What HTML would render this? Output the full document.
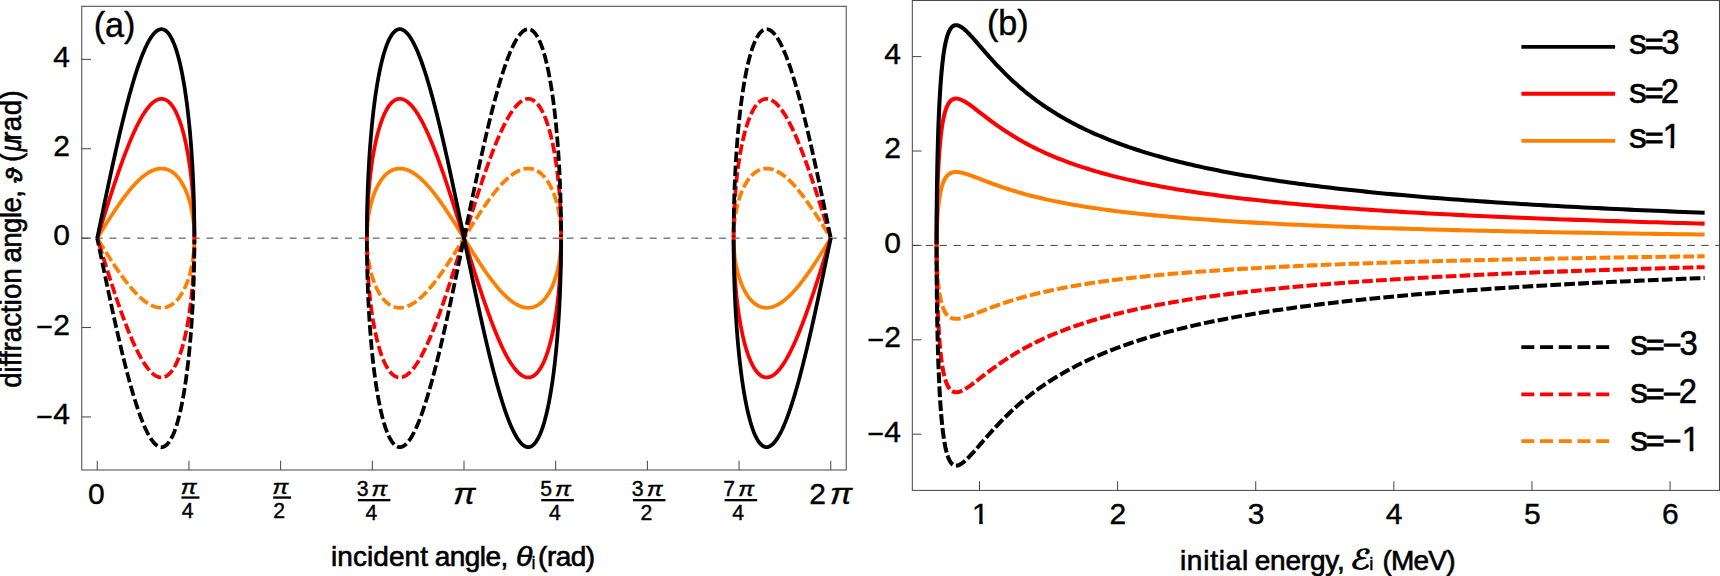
<!DOCTYPE html>
<html lang="en"><head><meta charset="utf-8"><title>Diffraction angle plots</title>
<style>html,body{margin:0;padding:0;background:#fff;}body{width:1720px;height:576px;overflow:hidden;}svg{display:block;}text{font-family:"Liberation Sans",sans-serif;fill:#000;stroke:#000;stroke-width:0.4px;}.t{font-size:30.0px;}.f{font-size:21.2px;}.x{font-size:28.0px;stroke-width:0.65px;}.yl text{stroke-width:0.6px;}.L{font-size:34.2px;}.G{font-size:35.7px;}.it{font-style:italic;}.c{fill:none;stroke-width:3.75;stroke-linejoin:round;stroke-linecap:butt;}.cb{stroke-width:4.05;}.fr{fill:none;stroke:#404040;stroke-width:0.98;}</style></head><body>
<svg width="1720" height="576" viewBox="0 0 1720 576">
<rect x="0" y="0" width="1720" height="576" fill="#fff"/>
<defs><clipPath id="c1_0"><rect x="970.10" y="493.50" width="30.00" height="27.45"/><rect x="979.28" y="520.50" width="3.37" height="4.00"/></clipPath><clipPath id="c1_1"><rect x="1660.63" y="112.71" width="35.70" height="32.34"/><rect x="1670.53" y="144.52" width="3.62" height="4.53"/></clipPath><clipPath id="c1_2"><rect x="1679.83" y="415.71" width="35.70" height="32.34"/><rect x="1689.73" y="447.52" width="3.62" height="4.53"/></clipPath></defs>
<g id="panel-a">
<rect class="fr" x="81.8" y="6.3" width="764.4000000000001" height="463.7"/>
<path class="fr" d="M97.25,470.00 V460.80 M188.94,470.00 V460.80 M280.62,470.00 V460.80 M372.31,470.00 V460.80 M464.00,470.00 V460.80 M555.69,470.00 V460.80 M647.38,470.00 V460.80 M739.06,470.00 V460.80 M830.75,470.00 V460.80 M81.80,416.95 H91.00 M81.80,327.55 H91.00 M81.80,238.15 H91.00 M81.80,148.75 H91.00 M81.80,59.35 H91.00"/>
<line x1="81.8" y1="238.15" x2="846.2" y2="238.15" stroke="#404040" stroke-width="1.0" stroke-dasharray="7.0 6.85" stroke-dashoffset="0"/>
<path class="c" stroke="#ff8000" d="M97.25,238.15 L97.27,238.12 L97.33,238.02 L97.43,237.86 L97.57,237.64 L97.74,237.35 L97.96,237.00 L98.22,236.59 L98.51,236.11 L98.85,235.58 L99.22,234.98 L99.63,234.31 L100.07,233.59 L100.56,232.81 L101.08,231.97 L101.64,231.08 L102.23,230.12 L102.86,229.11 L103.53,228.05 L104.23,226.93 L104.96,225.76 L105.73,224.55 L106.52,223.28 L107.36,221.97 L108.22,220.61 L109.11,219.22 L110.03,217.78 L110.99,216.31 L111.97,214.80 L112.98,213.26 L114.01,211.70 L115.07,210.10 L116.16,208.49 L117.27,206.86 L118.40,205.22 L119.56,203.56 L120.74,201.90 L121.93,200.23 L123.15,198.56 L124.39,196.90 L125.64,195.25 L126.91,193.61 L128.19,191.98 L129.49,190.38 L130.81,188.81 L132.13,187.26 L133.47,185.75 L134.81,184.28 L136.17,182.85 L137.53,181.47 L138.90,180.14 L140.28,178.86 L141.66,177.65 L143.04,176.49 L144.43,175.40 L145.81,174.38 L147.20,173.43 L148.59,172.56 L149.97,171.77 L151.35,171.06 L152.73,170.43 L154.10,169.88 L155.46,169.43 L156.81,169.06 L158.16,168.78 L159.50,168.60 L160.82,168.50 L162.13,168.50 L163.43,168.60 L164.72,168.79 L165.99,169.07 L167.24,169.45 L168.48,169.92 L169.69,170.48 L170.89,171.14 L172.07,171.89 L173.23,172.72 L174.36,173.65 L175.47,174.66 L176.56,175.75 L177.62,176.93 L178.65,178.19 L179.66,179.53 L180.64,180.94 L181.59,182.43 L182.52,183.99 L183.41,185.62 L184.27,187.31 L185.10,189.07 L185.90,190.89 L186.67,192.76 L187.40,194.70 L188.10,196.68 L188.77,198.71 L189.40,200.80 L189.99,202.92 L190.55,205.09 L191.07,207.29 L191.55,209.53 L192.00,211.80 L192.41,214.10 L192.78,216.43 L193.12,218.78 L193.41,221.16 L193.67,223.55 L193.88,225.96 L194.06,228.38 L194.20,230.81 L194.30,233.26 L194.36,235.70 L194.38,238.15 M366.87,238.15 L366.88,236.42 L366.91,234.69 L366.96,232.96 L367.03,231.23 L367.12,229.51 L367.23,227.79 L367.36,226.08 L367.51,224.37 L367.67,222.67 L367.86,220.97 L368.07,219.29 L368.29,217.61 L368.54,215.95 L368.81,214.30 L369.09,212.66 L369.40,211.03 L369.72,209.41 L370.06,207.82 L370.43,206.23 L370.81,204.67 L371.21,203.12 L371.63,201.59 L372.06,200.09 L372.52,198.60 L373.00,197.14 L373.49,195.70 L374.00,194.28 L374.53,192.89 L375.08,191.52 L375.65,190.19 L376.23,188.88 L376.84,187.60 L377.46,186.35 L378.10,185.14 L378.75,183.95 L379.43,182.81 L380.12,181.70 L380.82,180.62 L381.55,179.58 L382.29,178.58 L383.05,177.63 L383.82,176.71 L384.61,175.84 L385.42,175.01 L386.25,174.22 L387.08,173.48 L387.94,172.79 L388.81,172.14 L389.69,171.55 L390.60,171.00 L391.51,170.51 L392.44,170.06 L393.39,169.67 L394.35,169.34 L395.32,169.06 L396.31,168.83 L397.31,168.66 L398.32,168.55 L399.35,168.50 L400.39,168.50 L401.45,168.57 L402.52,168.69 L403.60,168.88 L404.69,169.12 L405.79,169.43 L406.91,169.79 L408.04,170.22 L409.18,170.71 L410.33,171.27 L411.49,171.88 L412.66,172.56 L413.84,173.30 L415.04,174.10 L416.24,174.96 L417.45,175.89 L418.67,176.87 L419.90,177.92 L421.15,179.02 L422.39,180.18 L423.65,181.41 L424.92,182.68 L426.19,184.02 L427.47,185.41 L428.76,186.86 L430.06,188.35 L431.36,189.90 L432.67,191.51 L433.99,193.16 L435.31,194.85 L436.64,196.60 L437.97,198.39 L439.31,200.22 L440.65,202.09 L442.00,204.00 L443.35,205.95 L444.71,207.93 L446.07,209.95 L447.44,212.00 L448.81,214.07 L450.18,216.17 L451.55,218.30 L452.93,220.45 L454.31,222.62 L455.69,224.81 L457.07,227.01 L458.46,229.22 L459.84,231.44 L461.23,233.68 L462.61,235.91 L464.00,238.15 L465.39,240.39 L466.77,242.62 L468.16,244.86 L469.54,247.08 L470.93,249.29 L472.31,251.49 L473.69,253.68 L475.07,255.85 L476.45,258.00 L477.82,260.13 L479.19,262.23 L480.56,264.30 L481.93,266.35 L483.29,268.37 L484.65,270.35 L486.00,272.30 L487.35,274.21 L488.69,276.08 L490.03,277.91 L491.36,279.70 L492.69,281.45 L494.01,283.14 L495.33,284.79 L496.64,286.40 L497.94,287.95 L499.24,289.44 L500.53,290.89 L501.81,292.28 L503.08,293.62 L504.35,294.89 L505.61,296.12 L506.85,297.28 L508.10,298.38 L509.33,299.43 L510.55,300.41 L511.76,301.34 L512.96,302.20 L514.16,303.00 L515.34,303.74 L516.51,304.42 L517.67,305.03 L518.82,305.59 L519.96,306.08 L521.09,306.51 L522.21,306.87 L523.31,307.18 L524.40,307.42 L525.48,307.61 L526.55,307.73 L527.61,307.80 L528.65,307.80 L529.68,307.75 L530.69,307.64 L531.69,307.47 L532.68,307.24 L533.65,306.96 L534.61,306.63 L535.56,306.24 L536.49,305.79 L537.40,305.30 L538.31,304.75 L539.19,304.16 L540.06,303.51 L540.92,302.82 L541.75,302.08 L542.58,301.29 L543.39,300.46 L544.18,299.59 L544.95,298.67 L545.71,297.72 L546.45,296.72 L547.18,295.68 L547.88,294.60 L548.57,293.49 L549.25,292.35 L549.90,291.16 L550.54,289.95 L551.16,288.70 L551.77,287.42 L552.35,286.11 L552.92,284.78 L553.47,283.41 L554.00,282.02 L554.51,280.60 L555.00,279.16 L555.48,277.70 L555.94,276.21 L556.37,274.71 L556.79,273.18 L557.19,271.63 L557.57,270.07 L557.94,268.48 L558.28,266.89 L558.60,265.27 L558.91,263.64 L559.19,262.00 L559.46,260.35 L559.71,258.69 L559.93,257.01 L560.14,255.33 L560.33,253.63 L560.49,251.93 L560.64,250.22 L560.77,248.51 L560.88,246.79 L560.97,245.07 L561.04,243.34 L561.09,241.61 L561.12,239.88 L561.13,238.15 M733.62,238.15 L733.64,240.60 L733.70,243.04 L733.80,245.49 L733.94,247.92 L734.12,250.34 L734.33,252.75 L734.59,255.14 L734.88,257.52 L735.22,259.87 L735.59,262.20 L736.00,264.50 L736.45,266.77 L736.93,269.01 L737.45,271.21 L738.01,273.38 L738.60,275.50 L739.23,277.59 L739.90,279.62 L740.60,281.60 L741.33,283.54 L742.10,285.41 L742.90,287.23 L743.73,288.99 L744.59,290.68 L745.48,292.31 L746.41,293.87 L747.36,295.36 L748.34,296.77 L749.35,298.11 L750.38,299.37 L751.44,300.55 L752.53,301.64 L753.64,302.65 L754.77,303.58 L755.93,304.41 L757.11,305.16 L758.31,305.82 L759.52,306.38 L760.76,306.85 L762.01,307.23 L763.28,307.51 L764.57,307.70 L765.87,307.80 L767.18,307.80 L768.50,307.70 L769.84,307.52 L771.19,307.24 L772.54,306.87 L773.90,306.42 L775.27,305.87 L776.65,305.24 L778.03,304.53 L779.41,303.74 L780.80,302.87 L782.19,301.92 L783.57,300.90 L784.96,299.81 L786.34,298.65 L787.72,297.44 L789.10,296.16 L790.47,294.83 L791.83,293.45 L793.19,292.02 L794.53,290.55 L795.87,289.04 L797.19,287.49 L798.51,285.92 L799.81,284.32 L801.09,282.69 L802.36,281.05 L803.61,279.40 L804.85,277.74 L806.07,276.07 L807.26,274.40 L808.44,272.74 L809.60,271.08 L810.73,269.44 L811.84,267.81 L812.93,266.20 L813.99,264.60 L815.02,263.04 L816.03,261.50 L817.01,259.99 L817.97,258.52 L818.89,257.08 L819.78,255.69 L820.64,254.33 L821.48,253.02 L822.27,251.75 L823.04,250.54 L823.77,249.37 L824.47,248.25 L825.14,247.19 L825.77,246.18 L826.36,245.22 L826.92,244.33 L827.44,243.49 L827.93,242.71 L828.37,241.99 L828.78,241.32 L829.15,240.72 L829.49,240.19 L829.78,239.71 L830.04,239.30 L830.26,238.95 L830.43,238.66 L830.57,238.44 L830.67,238.28 L830.73,238.18 L830.75,238.15"/>
<path class="c" stroke="#ff8000" stroke-dasharray="10.5 3.55" stroke-dashoffset="11.7" d="M97.25,238.15 L97.27,238.18 L97.33,238.28 L97.43,238.44 L97.57,238.66 L97.74,238.95 L97.96,239.30 L98.22,239.71 L98.51,240.19 L98.85,240.72 L99.22,241.32 L99.63,241.99 L100.07,242.71 L100.56,243.49 L101.08,244.33 L101.64,245.22 L102.23,246.18 L102.86,247.19 L103.53,248.25 L104.23,249.37 L104.96,250.54 L105.73,251.75 L106.52,253.02 L107.36,254.33 L108.22,255.69 L109.11,257.08 L110.03,258.52 L110.99,259.99 L111.97,261.50 L112.98,263.04 L114.01,264.60 L115.07,266.20 L116.16,267.81 L117.27,269.44 L118.40,271.08 L119.56,272.74 L120.74,274.40 L121.93,276.07 L123.15,277.74 L124.39,279.40 L125.64,281.05 L126.91,282.69 L128.19,284.32 L129.49,285.92 L130.81,287.49 L132.13,289.04 L133.47,290.55 L134.81,292.02 L136.17,293.45 L137.53,294.83 L138.90,296.16 L140.28,297.44 L141.66,298.65 L143.04,299.81 L144.43,300.90 L145.81,301.92 L147.20,302.87 L148.59,303.74 L149.97,304.53 L151.35,305.24 L152.73,305.87 L154.10,306.42 L155.46,306.87 L156.81,307.24 L158.16,307.52 L159.50,307.70 L160.82,307.80 L162.13,307.80 L163.43,307.70 L164.72,307.51 L165.99,307.23 L167.24,306.85 L168.48,306.38 L169.69,305.82 L170.89,305.16 L172.07,304.41 L173.23,303.58 L174.36,302.65 L175.47,301.64 L176.56,300.55 L177.62,299.37 L178.65,298.11 L179.66,296.77 L180.64,295.36 L181.59,293.87 L182.52,292.31 L183.41,290.68 L184.27,288.99 L185.10,287.23 L185.90,285.41 L186.67,283.54 L187.40,281.60 L188.10,279.62 L188.77,277.59 L189.40,275.50 L189.99,273.38 L190.55,271.21 L191.07,269.01 L191.55,266.77 L192.00,264.50 L192.41,262.20 L192.78,259.87 L193.12,257.52 L193.41,255.14 L193.67,252.75 L193.88,250.34 L194.06,247.92 L194.20,245.49 L194.30,243.04 L194.36,240.60 L194.38,238.15"/>
<path class="c" stroke="#ff8000" stroke-dasharray="10.5 3.55" stroke-dashoffset="7.15" d="M366.87,238.15 L366.88,239.88 L366.91,241.61 L366.96,243.34 L367.03,245.07 L367.12,246.79 L367.23,248.51 L367.36,250.22 L367.51,251.93 L367.67,253.63 L367.86,255.33 L368.07,257.01 L368.29,258.69 L368.54,260.35 L368.81,262.00 L369.09,263.64 L369.40,265.27 L369.72,266.89 L370.06,268.48 L370.43,270.07 L370.81,271.63 L371.21,273.18 L371.63,274.71 L372.06,276.21 L372.52,277.70 L373.00,279.16 L373.49,280.60 L374.00,282.02 L374.53,283.41 L375.08,284.78 L375.65,286.11 L376.23,287.42 L376.84,288.70 L377.46,289.95 L378.10,291.16 L378.75,292.35 L379.43,293.49 L380.12,294.60 L380.82,295.68 L381.55,296.72 L382.29,297.72 L383.05,298.67 L383.82,299.59 L384.61,300.46 L385.42,301.29 L386.25,302.08 L387.08,302.82 L387.94,303.51 L388.81,304.16 L389.69,304.75 L390.60,305.30 L391.51,305.79 L392.44,306.24 L393.39,306.63 L394.35,306.96 L395.32,307.24 L396.31,307.47 L397.31,307.64 L398.32,307.75 L399.35,307.80 L400.39,307.80 L401.45,307.73 L402.52,307.61 L403.60,307.42 L404.69,307.18 L405.79,306.87 L406.91,306.51 L408.04,306.08 L409.18,305.59 L410.33,305.03 L411.49,304.42 L412.66,303.74 L413.84,303.00 L415.04,302.20 L416.24,301.34 L417.45,300.41 L418.67,299.43 L419.90,298.38 L421.15,297.28 L422.39,296.12 L423.65,294.89 L424.92,293.62 L426.19,292.28 L427.47,290.89 L428.76,289.44 L430.06,287.95 L431.36,286.40 L432.67,284.79 L433.99,283.14 L435.31,281.45 L436.64,279.70 L437.97,277.91 L439.31,276.08 L440.65,274.21 L442.00,272.30 L443.35,270.35 L444.71,268.37 L446.07,266.35 L447.44,264.30 L448.81,262.23 L450.18,260.13 L451.55,258.00 L452.93,255.85 L454.31,253.68 L455.69,251.49 L457.07,249.29 L458.46,247.08 L459.84,244.86 L461.23,242.62 L462.61,240.39 L464.00,238.15 L465.39,235.91 L466.77,233.68 L468.16,231.44 L469.54,229.22 L470.93,227.01 L472.31,224.81 L473.69,222.62 L475.07,220.45 L476.45,218.30 L477.82,216.17 L479.19,214.07 L480.56,212.00 L481.93,209.95 L483.29,207.93 L484.65,205.95 L486.00,204.00 L487.35,202.09 L488.69,200.22 L490.03,198.39 L491.36,196.60 L492.69,194.85 L494.01,193.16 L495.33,191.51 L496.64,189.90 L497.94,188.35 L499.24,186.86 L500.53,185.41 L501.81,184.02 L503.08,182.68 L504.35,181.41 L505.61,180.18 L506.85,179.02 L508.10,177.92 L509.33,176.87 L510.55,175.89 L511.76,174.96 L512.96,174.10 L514.16,173.30 L515.34,172.56 L516.51,171.88 L517.67,171.27 L518.82,170.71 L519.96,170.22 L521.09,169.79 L522.21,169.43 L523.31,169.12 L524.40,168.88 L525.48,168.69 L526.55,168.57 L527.61,168.50 L528.65,168.50 L529.68,168.55 L530.69,168.66 L531.69,168.83 L532.68,169.06 L533.65,169.34 L534.61,169.67 L535.56,170.06 L536.49,170.51 L537.40,171.00 L538.31,171.55 L539.19,172.14 L540.06,172.79 L540.92,173.48 L541.75,174.22 L542.58,175.01 L543.39,175.84 L544.18,176.71 L544.95,177.63 L545.71,178.58 L546.45,179.58 L547.18,180.62 L547.88,181.70 L548.57,182.81 L549.25,183.95 L549.90,185.14 L550.54,186.35 L551.16,187.60 L551.77,188.88 L552.35,190.19 L552.92,191.52 L553.47,192.89 L554.00,194.28 L554.51,195.70 L555.00,197.14 L555.48,198.60 L555.94,200.09 L556.37,201.59 L556.79,203.12 L557.19,204.67 L557.57,206.23 L557.94,207.82 L558.28,209.41 L558.60,211.03 L558.91,212.66 L559.19,214.30 L559.46,215.95 L559.71,217.61 L559.93,219.29 L560.14,220.97 L560.33,222.67 L560.49,224.37 L560.64,226.08 L560.77,227.79 L560.88,229.51 L560.97,231.23 L561.04,232.96 L561.09,234.69 L561.12,236.42 L561.13,238.15"/>
<path class="c" stroke="#ff8000" stroke-dasharray="10.5 3.55" stroke-dashoffset="4.1" d="M733.62,238.15 L733.64,235.70 L733.70,233.26 L733.80,230.81 L733.94,228.38 L734.12,225.96 L734.33,223.55 L734.59,221.16 L734.88,218.78 L735.22,216.43 L735.59,214.10 L736.00,211.80 L736.45,209.53 L736.93,207.29 L737.45,205.09 L738.01,202.92 L738.60,200.80 L739.23,198.71 L739.90,196.68 L740.60,194.70 L741.33,192.76 L742.10,190.89 L742.90,189.07 L743.73,187.31 L744.59,185.62 L745.48,183.99 L746.41,182.43 L747.36,180.94 L748.34,179.53 L749.35,178.19 L750.38,176.93 L751.44,175.75 L752.53,174.66 L753.64,173.65 L754.77,172.72 L755.93,171.89 L757.11,171.14 L758.31,170.48 L759.52,169.92 L760.76,169.45 L762.01,169.07 L763.28,168.79 L764.57,168.60 L765.87,168.50 L767.18,168.50 L768.50,168.60 L769.84,168.78 L771.19,169.06 L772.54,169.43 L773.90,169.88 L775.27,170.43 L776.65,171.06 L778.03,171.77 L779.41,172.56 L780.80,173.43 L782.19,174.38 L783.57,175.40 L784.96,176.49 L786.34,177.65 L787.72,178.86 L789.10,180.14 L790.47,181.47 L791.83,182.85 L793.19,184.28 L794.53,185.75 L795.87,187.26 L797.19,188.81 L798.51,190.38 L799.81,191.98 L801.09,193.61 L802.36,195.25 L803.61,196.90 L804.85,198.56 L806.07,200.23 L807.26,201.90 L808.44,203.56 L809.60,205.22 L810.73,206.86 L811.84,208.49 L812.93,210.10 L813.99,211.70 L815.02,213.26 L816.03,214.80 L817.01,216.31 L817.97,217.78 L818.89,219.22 L819.78,220.61 L820.64,221.97 L821.48,223.28 L822.27,224.55 L823.04,225.76 L823.77,226.93 L824.47,228.05 L825.14,229.11 L825.77,230.12 L826.36,231.08 L826.92,231.97 L827.44,232.81 L827.93,233.59 L828.37,234.31 L828.78,234.98 L829.15,235.58 L829.49,236.11 L829.78,236.59 L830.04,237.00 L830.26,237.35 L830.43,237.64 L830.57,237.86 L830.67,238.02 L830.73,238.12 L830.75,238.15"/>
<path class="c" stroke="#ff0000" d="M97.25,238.15 L97.27,238.09 L97.33,237.89 L97.43,237.57 L97.57,237.13 L97.74,236.55 L97.96,235.85 L98.22,235.03 L98.51,234.08 L98.85,233.00 L99.22,231.80 L99.63,230.48 L100.07,229.04 L100.56,227.48 L101.08,225.80 L101.64,224.00 L102.23,222.10 L102.86,220.08 L103.53,217.95 L104.23,215.71 L104.96,213.38 L105.73,210.94 L106.52,208.41 L107.36,205.79 L108.22,203.08 L109.11,200.28 L110.03,197.41 L110.99,194.46 L111.97,191.45 L112.98,188.37 L114.01,185.24 L115.07,182.06 L116.16,178.83 L117.27,175.57 L118.40,172.28 L119.56,168.97 L120.74,165.64 L121.93,162.31 L123.15,158.97 L124.39,155.65 L125.64,152.34 L126.91,149.06 L128.19,145.82 L129.49,142.62 L130.81,139.47 L132.13,136.38 L133.47,133.36 L134.81,130.41 L136.17,127.55 L137.53,124.79 L138.90,122.13 L140.28,119.58 L141.66,117.14 L143.04,114.83 L144.43,112.65 L145.81,110.61 L147.20,108.72 L148.59,106.97 L149.97,105.39 L151.35,103.96 L152.73,102.70 L154.10,101.61 L155.46,100.70 L156.81,99.97 L158.16,99.41 L159.50,99.04 L160.82,98.86 L162.13,98.86 L163.43,99.05 L164.72,99.43 L165.99,99.99 L167.24,100.75 L168.48,101.69 L169.69,102.82 L170.89,104.13 L172.07,105.62 L173.23,107.29 L174.36,109.14 L175.47,111.16 L176.56,113.35 L177.62,115.71 L178.65,118.23 L179.66,120.90 L180.64,123.73 L181.59,126.71 L182.52,129.83 L183.41,133.08 L184.27,136.47 L185.10,139.99 L185.90,143.63 L186.67,147.38 L187.40,151.24 L188.10,155.21 L188.77,159.28 L189.40,163.44 L189.99,167.69 L190.55,172.02 L191.07,176.43 L191.55,180.91 L192.00,185.45 L192.41,190.05 L192.78,194.71 L193.12,199.42 L193.41,204.16 L193.67,208.95 L193.88,213.77 L194.06,218.61 L194.20,223.48 L194.30,228.36 L194.36,233.25 L194.38,238.15 M366.87,238.15 L366.88,234.69 L366.91,231.22 L366.96,227.77 L367.03,224.31 L367.12,220.87 L367.23,217.43 L367.36,214.00 L367.51,210.59 L367.67,207.18 L367.86,203.80 L368.07,200.43 L368.29,197.08 L368.54,193.75 L368.81,190.44 L369.09,187.16 L369.40,183.91 L369.72,180.68 L370.06,177.48 L370.43,174.32 L370.81,171.19 L371.21,168.09 L371.63,165.04 L372.06,162.02 L372.52,159.05 L373.00,156.12 L373.49,153.24 L374.00,150.41 L374.53,147.62 L375.08,144.90 L375.65,142.22 L376.23,139.60 L376.84,137.05 L377.46,134.55 L378.10,132.12 L378.75,129.76 L379.43,127.46 L380.12,125.24 L380.82,123.09 L381.55,121.02 L382.29,119.02 L383.05,117.10 L383.82,115.27 L384.61,113.52 L385.42,111.86 L386.25,110.29 L387.08,108.81 L387.94,107.42 L388.81,106.13 L389.69,104.94 L390.60,103.85 L391.51,102.86 L392.44,101.98 L393.39,101.20 L394.35,100.53 L395.32,99.96 L396.31,99.51 L397.31,99.18 L398.32,98.95 L399.35,98.85 L400.39,98.86 L401.45,98.98 L402.52,99.23 L403.60,99.60 L404.69,100.09 L405.79,100.70 L406.91,101.44 L408.04,102.30 L409.18,103.28 L410.33,104.39 L411.49,105.62 L412.66,106.97 L413.84,108.45 L415.04,110.05 L416.24,111.78 L417.45,113.62 L418.67,115.59 L419.90,117.68 L421.15,119.89 L422.39,122.22 L423.65,124.66 L424.92,127.22 L426.19,129.89 L427.47,132.67 L428.76,135.56 L430.06,138.56 L431.36,141.66 L432.67,144.86 L433.99,148.16 L435.31,151.56 L436.64,155.04 L437.97,158.62 L439.31,162.28 L440.65,166.03 L442.00,169.85 L443.35,173.75 L444.71,177.71 L446.07,181.75 L447.44,185.84 L448.81,189.99 L450.18,194.20 L451.55,198.45 L452.93,202.75 L454.31,207.09 L455.69,211.46 L457.07,215.86 L458.46,220.29 L459.84,224.74 L461.23,229.20 L462.61,233.67 L464.00,238.15 L465.39,242.63 L466.77,247.10 L468.16,251.56 L469.54,256.01 L470.93,260.44 L472.31,264.84 L473.69,269.21 L475.07,273.55 L476.45,277.85 L477.82,282.10 L479.19,286.31 L480.56,290.46 L481.93,294.55 L483.29,298.59 L484.65,302.55 L486.00,306.45 L487.35,310.27 L488.69,314.02 L490.03,317.68 L491.36,321.26 L492.69,324.74 L494.01,328.14 L495.33,331.44 L496.64,334.64 L497.94,337.74 L499.24,340.74 L500.53,343.63 L501.81,346.41 L503.08,349.08 L504.35,351.64 L505.61,354.08 L506.85,356.41 L508.10,358.62 L509.33,360.71 L510.55,362.68 L511.76,364.52 L512.96,366.25 L514.16,367.85 L515.34,369.33 L516.51,370.68 L517.67,371.91 L518.82,373.02 L519.96,374.00 L521.09,374.86 L522.21,375.60 L523.31,376.21 L524.40,376.70 L525.48,377.07 L526.55,377.32 L527.61,377.44 L528.65,377.45 L529.68,377.35 L530.69,377.12 L531.69,376.79 L532.68,376.34 L533.65,375.77 L534.61,375.10 L535.56,374.32 L536.49,373.44 L537.40,372.45 L538.31,371.36 L539.19,370.17 L540.06,368.88 L540.92,367.49 L541.75,366.01 L542.58,364.44 L543.39,362.78 L544.18,361.03 L544.95,359.20 L545.71,357.28 L546.45,355.28 L547.18,353.21 L547.88,351.06 L548.57,348.84 L549.25,346.54 L549.90,344.18 L550.54,341.75 L551.16,339.25 L551.77,336.70 L552.35,334.08 L552.92,331.40 L553.47,328.68 L554.00,325.89 L554.51,323.06 L555.00,320.18 L555.48,317.25 L555.94,314.28 L556.37,311.26 L556.79,308.21 L557.19,305.11 L557.57,301.98 L557.94,298.82 L558.28,295.62 L558.60,292.39 L558.91,289.14 L559.19,285.86 L559.46,282.55 L559.71,279.22 L559.93,275.87 L560.14,272.50 L560.33,269.12 L560.49,265.71 L560.64,262.30 L560.77,258.87 L560.88,255.43 L560.97,251.99 L561.04,248.53 L561.09,245.08 L561.12,241.61 L561.13,238.15 M733.62,238.15 L733.64,243.05 L733.70,247.94 L733.80,252.82 L733.94,257.69 L734.12,262.53 L734.33,267.35 L734.59,272.14 L734.88,276.88 L735.22,281.59 L735.59,286.25 L736.00,290.85 L736.45,295.39 L736.93,299.87 L737.45,304.28 L738.01,308.61 L738.60,312.86 L739.23,317.02 L739.90,321.09 L740.60,325.06 L741.33,328.92 L742.10,332.67 L742.90,336.31 L743.73,339.83 L744.59,343.22 L745.48,346.47 L746.41,349.59 L747.36,352.57 L748.34,355.40 L749.35,358.07 L750.38,360.59 L751.44,362.95 L752.53,365.14 L753.64,367.16 L754.77,369.01 L755.93,370.68 L757.11,372.17 L758.31,373.48 L759.52,374.61 L760.76,375.55 L762.01,376.31 L763.28,376.87 L764.57,377.25 L765.87,377.44 L767.18,377.44 L768.50,377.26 L769.84,376.89 L771.19,376.33 L772.54,375.60 L773.90,374.69 L775.27,373.60 L776.65,372.34 L778.03,370.91 L779.41,369.33 L780.80,367.58 L782.19,365.69 L783.57,363.65 L784.96,361.47 L786.34,359.16 L787.72,356.72 L789.10,354.17 L790.47,351.51 L791.83,348.75 L793.19,345.89 L794.53,342.94 L795.87,339.92 L797.19,336.83 L798.51,333.68 L799.81,330.48 L801.09,327.24 L802.36,323.96 L803.61,320.65 L804.85,317.33 L806.07,313.99 L807.26,310.66 L808.44,307.33 L809.60,304.02 L810.73,300.73 L811.84,297.47 L812.93,294.24 L813.99,291.06 L815.02,287.93 L816.03,284.85 L817.01,281.84 L817.97,278.89 L818.89,276.02 L819.78,273.22 L820.64,270.51 L821.48,267.89 L822.27,265.36 L823.04,262.92 L823.77,260.59 L824.47,258.35 L825.14,256.22 L825.77,254.20 L826.36,252.30 L826.92,250.50 L827.44,248.82 L827.93,247.26 L828.37,245.82 L828.78,244.50 L829.15,243.30 L829.49,242.22 L829.78,241.27 L830.04,240.45 L830.26,239.75 L830.43,239.17 L830.57,238.73 L830.67,238.41 L830.73,238.21 L830.75,238.15"/>
<path class="c" stroke="#ff0000" stroke-dasharray="10.5 3.55" stroke-dashoffset="8.2" d="M97.25,238.15 L97.27,238.21 L97.33,238.41 L97.43,238.73 L97.57,239.17 L97.74,239.75 L97.96,240.45 L98.22,241.27 L98.51,242.22 L98.85,243.30 L99.22,244.50 L99.63,245.82 L100.07,247.26 L100.56,248.82 L101.08,250.50 L101.64,252.30 L102.23,254.20 L102.86,256.22 L103.53,258.35 L104.23,260.59 L104.96,262.92 L105.73,265.36 L106.52,267.89 L107.36,270.51 L108.22,273.22 L109.11,276.02 L110.03,278.89 L110.99,281.84 L111.97,284.85 L112.98,287.93 L114.01,291.06 L115.07,294.24 L116.16,297.47 L117.27,300.73 L118.40,304.02 L119.56,307.33 L120.74,310.66 L121.93,313.99 L123.15,317.33 L124.39,320.65 L125.64,323.96 L126.91,327.24 L128.19,330.48 L129.49,333.68 L130.81,336.83 L132.13,339.92 L133.47,342.94 L134.81,345.89 L136.17,348.75 L137.53,351.51 L138.90,354.17 L140.28,356.72 L141.66,359.16 L143.04,361.47 L144.43,363.65 L145.81,365.69 L147.20,367.58 L148.59,369.33 L149.97,370.91 L151.35,372.34 L152.73,373.60 L154.10,374.69 L155.46,375.60 L156.81,376.33 L158.16,376.89 L159.50,377.26 L160.82,377.44 L162.13,377.44 L163.43,377.25 L164.72,376.87 L165.99,376.31 L167.24,375.55 L168.48,374.61 L169.69,373.48 L170.89,372.17 L172.07,370.68 L173.23,369.01 L174.36,367.16 L175.47,365.14 L176.56,362.95 L177.62,360.59 L178.65,358.07 L179.66,355.40 L180.64,352.57 L181.59,349.59 L182.52,346.47 L183.41,343.22 L184.27,339.83 L185.10,336.31 L185.90,332.67 L186.67,328.92 L187.40,325.06 L188.10,321.09 L188.77,317.02 L189.40,312.86 L189.99,308.61 L190.55,304.28 L191.07,299.87 L191.55,295.39 L192.00,290.85 L192.41,286.25 L192.78,281.59 L193.12,276.88 L193.41,272.14 L193.67,267.35 L193.88,262.53 L194.06,257.69 L194.20,252.82 L194.30,247.94 L194.36,243.05 L194.38,238.15"/>
<path class="c" stroke="#ff0000" stroke-dasharray="10.5 3.55" stroke-dashoffset="3.65" d="M366.87,238.15 L366.88,241.61 L366.91,245.08 L366.96,248.53 L367.03,251.99 L367.12,255.43 L367.23,258.87 L367.36,262.30 L367.51,265.71 L367.67,269.12 L367.86,272.50 L368.07,275.87 L368.29,279.22 L368.54,282.55 L368.81,285.86 L369.09,289.14 L369.40,292.39 L369.72,295.62 L370.06,298.82 L370.43,301.98 L370.81,305.11 L371.21,308.21 L371.63,311.26 L372.06,314.28 L372.52,317.25 L373.00,320.18 L373.49,323.06 L374.00,325.89 L374.53,328.68 L375.08,331.40 L375.65,334.08 L376.23,336.70 L376.84,339.25 L377.46,341.75 L378.10,344.18 L378.75,346.54 L379.43,348.84 L380.12,351.06 L380.82,353.21 L381.55,355.28 L382.29,357.28 L383.05,359.20 L383.82,361.03 L384.61,362.78 L385.42,364.44 L386.25,366.01 L387.08,367.49 L387.94,368.88 L388.81,370.17 L389.69,371.36 L390.60,372.45 L391.51,373.44 L392.44,374.32 L393.39,375.10 L394.35,375.77 L395.32,376.34 L396.31,376.79 L397.31,377.12 L398.32,377.35 L399.35,377.45 L400.39,377.44 L401.45,377.32 L402.52,377.07 L403.60,376.70 L404.69,376.21 L405.79,375.60 L406.91,374.86 L408.04,374.00 L409.18,373.02 L410.33,371.91 L411.49,370.68 L412.66,369.33 L413.84,367.85 L415.04,366.25 L416.24,364.52 L417.45,362.68 L418.67,360.71 L419.90,358.62 L421.15,356.41 L422.39,354.08 L423.65,351.64 L424.92,349.08 L426.19,346.41 L427.47,343.63 L428.76,340.74 L430.06,337.74 L431.36,334.64 L432.67,331.44 L433.99,328.14 L435.31,324.74 L436.64,321.26 L437.97,317.68 L439.31,314.02 L440.65,310.27 L442.00,306.45 L443.35,302.55 L444.71,298.59 L446.07,294.55 L447.44,290.46 L448.81,286.31 L450.18,282.10 L451.55,277.85 L452.93,273.55 L454.31,269.21 L455.69,264.84 L457.07,260.44 L458.46,256.01 L459.84,251.56 L461.23,247.10 L462.61,242.63 L464.00,238.15 L465.39,233.67 L466.77,229.20 L468.16,224.74 L469.54,220.29 L470.93,215.86 L472.31,211.46 L473.69,207.09 L475.07,202.75 L476.45,198.45 L477.82,194.20 L479.19,189.99 L480.56,185.84 L481.93,181.75 L483.29,177.71 L484.65,173.75 L486.00,169.85 L487.35,166.03 L488.69,162.28 L490.03,158.62 L491.36,155.04 L492.69,151.56 L494.01,148.16 L495.33,144.86 L496.64,141.66 L497.94,138.56 L499.24,135.56 L500.53,132.67 L501.81,129.89 L503.08,127.22 L504.35,124.66 L505.61,122.22 L506.85,119.89 L508.10,117.68 L509.33,115.59 L510.55,113.62 L511.76,111.78 L512.96,110.05 L514.16,108.45 L515.34,106.97 L516.51,105.62 L517.67,104.39 L518.82,103.28 L519.96,102.30 L521.09,101.44 L522.21,100.70 L523.31,100.09 L524.40,99.60 L525.48,99.23 L526.55,98.98 L527.61,98.86 L528.65,98.85 L529.68,98.95 L530.69,99.18 L531.69,99.51 L532.68,99.96 L533.65,100.53 L534.61,101.20 L535.56,101.98 L536.49,102.86 L537.40,103.85 L538.31,104.94 L539.19,106.13 L540.06,107.42 L540.92,108.81 L541.75,110.29 L542.58,111.86 L543.39,113.52 L544.18,115.27 L544.95,117.10 L545.71,119.02 L546.45,121.02 L547.18,123.09 L547.88,125.24 L548.57,127.46 L549.25,129.76 L549.90,132.12 L550.54,134.55 L551.16,137.05 L551.77,139.60 L552.35,142.22 L552.92,144.90 L553.47,147.62 L554.00,150.41 L554.51,153.24 L555.00,156.12 L555.48,159.05 L555.94,162.02 L556.37,165.04 L556.79,168.09 L557.19,171.19 L557.57,174.32 L557.94,177.48 L558.28,180.68 L558.60,183.91 L558.91,187.16 L559.19,190.44 L559.46,193.75 L559.71,197.08 L559.93,200.43 L560.14,203.80 L560.33,207.18 L560.49,210.59 L560.64,214.00 L560.77,217.43 L560.88,220.87 L560.97,224.31 L561.04,227.77 L561.09,231.22 L561.12,234.69 L561.13,238.15"/>
<path class="c" stroke="#ff0000" stroke-dasharray="10.5 3.55" stroke-dashoffset="0.5999999999999996" d="M733.62,238.15 L733.64,233.25 L733.70,228.36 L733.80,223.48 L733.94,218.61 L734.12,213.77 L734.33,208.95 L734.59,204.16 L734.88,199.42 L735.22,194.71 L735.59,190.05 L736.00,185.45 L736.45,180.91 L736.93,176.43 L737.45,172.02 L738.01,167.69 L738.60,163.44 L739.23,159.28 L739.90,155.21 L740.60,151.24 L741.33,147.38 L742.10,143.63 L742.90,139.99 L743.73,136.47 L744.59,133.08 L745.48,129.83 L746.41,126.71 L747.36,123.73 L748.34,120.90 L749.35,118.23 L750.38,115.71 L751.44,113.35 L752.53,111.16 L753.64,109.14 L754.77,107.29 L755.93,105.62 L757.11,104.13 L758.31,102.82 L759.52,101.69 L760.76,100.75 L762.01,99.99 L763.28,99.43 L764.57,99.05 L765.87,98.86 L767.18,98.86 L768.50,99.04 L769.84,99.41 L771.19,99.97 L772.54,100.70 L773.90,101.61 L775.27,102.70 L776.65,103.96 L778.03,105.39 L779.41,106.97 L780.80,108.72 L782.19,110.61 L783.57,112.65 L784.96,114.83 L786.34,117.14 L787.72,119.58 L789.10,122.13 L790.47,124.79 L791.83,127.55 L793.19,130.41 L794.53,133.36 L795.87,136.38 L797.19,139.47 L798.51,142.62 L799.81,145.82 L801.09,149.06 L802.36,152.34 L803.61,155.65 L804.85,158.97 L806.07,162.31 L807.26,165.64 L808.44,168.97 L809.60,172.28 L810.73,175.57 L811.84,178.83 L812.93,182.06 L813.99,185.24 L815.02,188.37 L816.03,191.45 L817.01,194.46 L817.97,197.41 L818.89,200.28 L819.78,203.08 L820.64,205.79 L821.48,208.41 L822.27,210.94 L823.04,213.38 L823.77,215.71 L824.47,217.95 L825.14,220.08 L825.77,222.10 L826.36,224.00 L826.92,225.80 L827.44,227.48 L827.93,229.04 L828.37,230.48 L828.78,231.80 L829.15,233.00 L829.49,234.08 L829.78,235.03 L830.04,235.85 L830.26,236.55 L830.43,237.13 L830.57,237.57 L830.67,237.89 L830.73,238.09 L830.75,238.15"/>
<path class="c" stroke="#000000" d="M97.25,238.15 L97.27,238.05 L97.33,237.77 L97.43,237.29 L97.57,236.62 L97.74,235.76 L97.96,234.71 L98.22,233.47 L98.51,232.04 L98.85,230.43 L99.22,228.63 L99.63,226.64 L100.07,224.48 L100.56,222.14 L101.08,219.62 L101.64,216.93 L102.23,214.07 L102.86,211.04 L103.53,207.85 L104.23,204.50 L104.96,200.99 L105.73,197.34 L106.52,193.54 L107.36,189.61 L108.22,185.54 L109.11,181.35 L110.03,177.04 L110.99,172.62 L111.97,168.10 L112.98,163.49 L114.01,158.79 L115.07,154.02 L116.16,149.18 L117.27,144.28 L118.40,139.35 L119.56,134.38 L120.74,129.39 L121.93,124.39 L123.15,119.39 L124.39,114.40 L125.64,109.44 L126.91,104.52 L128.19,99.66 L129.49,94.85 L130.81,90.13 L132.13,85.49 L133.47,80.96 L134.81,76.55 L136.17,72.26 L137.53,68.11 L138.90,64.12 L140.28,60.29 L141.66,56.64 L143.04,53.17 L144.43,49.91 L145.81,46.85 L147.20,44.00 L148.59,41.39 L149.97,39.01 L151.35,36.87 L152.72,34.98 L154.09,33.35 L155.46,31.98 L156.81,30.88 L158.16,30.04 L159.50,29.49 L160.82,29.21 L162.13,29.21 L163.43,29.50 L164.72,30.07 L165.99,30.92 L167.24,32.05 L168.48,33.46 L169.69,35.15 L170.89,37.12 L172.07,39.35 L173.22,41.86 L174.36,44.63 L175.47,47.67 L176.55,50.95 L177.62,54.49 L178.65,58.26 L179.66,62.28 L180.64,66.52 L181.59,70.98 L182.52,75.66 L183.41,80.54 L184.27,85.63 L185.10,90.90 L185.90,96.36 L186.67,101.99 L187.40,107.78 L188.10,113.74 L188.76,119.84 L189.39,126.08 L189.99,132.45 L190.55,138.95 L191.07,145.56 L191.55,152.28 L192.00,159.09 L192.41,165.99 L192.78,172.98 L193.11,180.03 L193.41,187.15 L193.67,194.33 L193.88,201.55 L194.06,208.81 L194.20,216.09 L194.30,223.39 L194.36,230.65 L194.38,236.65 M366.87,236.65 L366.88,232.74 L366.91,227.65 L366.96,222.50 L367.03,217.34 L367.12,212.18 L367.23,207.03 L367.36,201.90 L367.51,196.78 L367.67,191.68 L367.86,186.60 L368.07,181.55 L368.30,176.53 L368.54,171.53 L368.81,166.57 L369.09,161.65 L369.40,156.77 L369.72,151.93 L370.06,147.14 L370.43,142.39 L370.81,137.70 L371.21,133.06 L371.63,128.47 L372.06,123.95 L372.52,119.49 L373.00,115.10 L373.49,110.78 L374.00,106.53 L374.53,102.36 L375.08,98.26 L375.65,94.25 L376.24,90.33 L376.84,86.49 L377.46,82.75 L378.10,79.11 L378.75,75.56 L379.43,72.12 L380.12,68.78 L380.83,65.56 L381.55,62.45 L382.29,59.45 L383.05,56.58 L383.82,53.83 L384.62,51.21 L385.42,48.72 L386.25,46.36 L387.08,44.14 L387.94,42.06 L388.81,40.13 L389.70,38.34 L390.60,36.70 L391.51,35.22 L392.44,33.89 L393.39,32.72 L394.35,31.71 L395.32,30.87 L396.31,30.19 L397.31,29.69 L398.33,29.35 L399.35,29.19 L400.40,29.21 L401.45,29.40 L402.52,29.77 L403.60,30.33 L404.69,31.06 L405.79,31.98 L406.91,33.08 L408.04,34.37 L409.18,35.84 L410.33,37.50 L411.49,39.35 L412.66,41.38 L413.84,43.60 L415.04,46.00 L416.24,48.59 L417.45,51.36 L418.67,54.32 L419.91,57.45 L421.15,60.76 L422.39,64.25 L423.65,67.92 L424.92,71.75 L426.19,75.76 L427.47,79.93 L428.76,84.27 L430.06,88.76 L431.36,93.41 L432.67,98.22 L433.99,103.17 L435.31,108.26 L436.64,113.49 L437.97,118.86 L439.31,124.35 L440.65,129.97 L442.00,135.70 L443.35,141.55 L444.71,147.50 L446.07,153.55 L447.44,159.69 L448.81,165.92 L450.18,172.23 L451.55,178.61 L452.93,185.05 L454.31,191.56 L455.69,198.12 L457.07,204.72 L458.46,211.36 L459.84,218.03 L461.23,224.73 L462.61,231.43 L464.00,238.15 L465.39,244.87 L466.77,251.57 L468.16,258.27 L469.54,264.94 L470.93,271.58 L472.31,278.18 L473.69,284.74 L475.07,291.25 L476.45,297.69 L477.82,304.07 L479.19,310.38 L480.56,316.61 L481.93,322.75 L483.29,328.80 L484.65,334.75 L486.00,340.60 L487.35,346.33 L488.69,351.95 L490.03,357.44 L491.36,362.81 L492.69,368.04 L494.01,373.13 L495.33,378.08 L496.64,382.89 L497.94,387.54 L499.24,392.03 L500.53,396.37 L501.81,400.54 L503.08,404.55 L504.35,408.38 L505.61,412.05 L506.85,415.54 L508.09,418.85 L509.33,421.98 L510.55,424.94 L511.76,427.71 L512.96,430.30 L514.16,432.70 L515.34,434.92 L516.51,436.95 L517.67,438.80 L518.82,440.46 L519.96,441.93 L521.09,443.22 L522.21,444.32 L523.31,445.24 L524.40,445.97 L525.48,446.53 L526.55,446.90 L527.60,447.09 L528.65,447.11 L529.67,446.95 L530.69,446.61 L531.69,446.11 L532.68,445.43 L533.65,444.59 L534.61,443.58 L535.56,442.41 L536.49,441.08 L537.40,439.60 L538.30,437.96 L539.19,436.17 L540.06,434.24 L540.92,432.16 L541.75,429.94 L542.58,427.58 L543.38,425.09 L544.18,422.47 L544.95,419.72 L545.71,416.85 L546.45,413.85 L547.17,410.74 L547.88,407.52 L548.57,404.18 L549.25,400.74 L549.90,397.19 L550.54,393.55 L551.16,389.81 L551.76,385.97 L552.35,382.05 L552.92,378.04 L553.47,373.94 L554.00,369.77 L554.51,365.52 L555.00,361.20 L555.48,356.81 L555.94,352.35 L556.37,347.83 L556.79,343.24 L557.19,338.60 L557.57,333.91 L557.94,329.16 L558.28,324.37 L558.60,319.53 L558.91,314.65 L559.19,309.73 L559.46,304.77 L559.70,299.77 L559.93,294.75 L560.14,289.70 L560.33,284.62 L560.49,279.52 L560.64,274.40 L560.77,269.27 L560.88,264.12 L560.97,258.96 L561.04,253.80 L561.09,248.65 L561.12,243.56 L561.13,239.65 M733.62,239.65 L733.64,245.65 L733.70,252.91 L733.80,260.21 L733.94,267.49 L734.12,274.75 L734.33,281.97 L734.59,289.15 L734.89,296.27 L735.22,303.32 L735.59,310.31 L736.00,317.21 L736.45,324.02 L736.93,330.74 L737.45,337.35 L738.01,343.85 L738.61,350.22 L739.24,356.46 L739.90,362.56 L740.60,368.52 L741.33,374.31 L742.10,379.94 L742.90,385.40 L743.73,390.67 L744.59,395.76 L745.48,400.64 L746.41,405.32 L747.36,409.78 L748.34,414.02 L749.35,418.04 L750.38,421.81 L751.45,425.35 L752.53,428.63 L753.64,431.67 L754.78,434.44 L755.93,436.95 L757.11,439.18 L758.31,441.15 L759.52,442.84 L760.76,444.25 L762.01,445.38 L763.28,446.23 L764.57,446.80 L765.87,447.09 L767.18,447.09 L768.50,446.81 L769.84,446.26 L771.19,445.42 L772.54,444.32 L773.91,442.95 L775.28,441.32 L776.65,439.43 L778.03,437.29 L779.41,434.91 L780.80,432.30 L782.19,429.45 L783.57,426.39 L784.96,423.13 L786.34,419.66 L787.72,416.01 L789.10,412.18 L790.47,408.19 L791.83,404.04 L793.19,399.75 L794.53,395.34 L795.87,390.81 L797.19,386.17 L798.51,381.45 L799.81,376.64 L801.09,371.78 L802.36,366.86 L803.61,361.90 L804.85,356.91 L806.07,351.91 L807.26,346.91 L808.44,341.92 L809.60,336.95 L810.73,332.02 L811.84,327.12 L812.93,322.28 L813.99,317.51 L815.02,312.81 L816.03,308.20 L817.01,303.68 L817.97,299.26 L818.89,294.95 L819.78,290.76 L820.64,286.69 L821.48,282.76 L822.27,278.96 L823.04,275.31 L823.77,271.80 L824.47,268.45 L825.14,265.26 L825.77,262.23 L826.36,259.37 L826.92,256.68 L827.44,254.16 L827.93,251.82 L828.37,249.66 L828.78,247.67 L829.15,245.87 L829.49,244.26 L829.78,242.83 L830.04,241.59 L830.26,240.54 L830.43,239.68 L830.57,239.01 L830.67,238.53 L830.73,238.25 L830.75,238.15"/>
<path class="c" stroke="#000000" stroke-dasharray="10.5 3.55" stroke-dashoffset="3.2" d="M97.25,238.15 L97.27,238.25 L97.33,238.53 L97.43,239.01 L97.57,239.68 L97.74,240.54 L97.96,241.59 L98.22,242.83 L98.51,244.26 L98.85,245.87 L99.22,247.67 L99.63,249.66 L100.07,251.82 L100.56,254.16 L101.08,256.68 L101.64,259.37 L102.23,262.23 L102.86,265.26 L103.53,268.45 L104.23,271.80 L104.96,275.31 L105.73,278.96 L106.52,282.76 L107.36,286.69 L108.22,290.76 L109.11,294.95 L110.03,299.26 L110.99,303.68 L111.97,308.20 L112.98,312.81 L114.01,317.51 L115.07,322.28 L116.16,327.12 L117.27,332.02 L118.40,336.95 L119.56,341.92 L120.74,346.91 L121.93,351.91 L123.15,356.91 L124.39,361.90 L125.64,366.86 L126.91,371.78 L128.19,376.64 L129.49,381.45 L130.81,386.17 L132.13,390.81 L133.47,395.34 L134.81,399.75 L136.17,404.04 L137.53,408.19 L138.90,412.18 L140.28,416.01 L141.66,419.66 L143.04,423.13 L144.43,426.39 L145.81,429.45 L147.20,432.30 L148.59,434.91 L149.97,437.29 L151.35,439.43 L152.72,441.32 L154.09,442.95 L155.46,444.32 L156.81,445.42 L158.16,446.26 L159.50,446.81 L160.82,447.09 L162.13,447.09 L163.43,446.80 L164.72,446.23 L165.99,445.38 L167.24,444.25 L168.48,442.84 L169.69,441.15 L170.89,439.18 L172.07,436.95 L173.22,434.44 L174.36,431.67 L175.47,428.63 L176.55,425.35 L177.62,421.81 L178.65,418.04 L179.66,414.02 L180.64,409.78 L181.59,405.32 L182.52,400.64 L183.41,395.76 L184.27,390.67 L185.10,385.40 L185.90,379.94 L186.67,374.31 L187.40,368.52 L188.10,362.56 L188.76,356.46 L189.39,350.22 L189.99,343.85 L190.55,337.35 L191.07,330.74 L191.55,324.02 L192.00,317.21 L192.41,310.31 L192.78,303.32 L193.11,296.27 L193.41,289.15 L193.67,281.97 L193.88,274.75 L194.06,267.49 L194.20,260.21 L194.30,252.91 L194.36,245.65 L194.38,239.65"/>
<path class="c" stroke="#000000" stroke-dasharray="10.5 3.55" stroke-dashoffset="-1.35" d="M366.87,239.65 L366.88,243.56 L366.91,248.65 L366.96,253.80 L367.03,258.96 L367.12,264.12 L367.23,269.27 L367.36,274.40 L367.51,279.52 L367.67,284.62 L367.86,289.70 L368.07,294.75 L368.30,299.77 L368.54,304.77 L368.81,309.73 L369.09,314.65 L369.40,319.53 L369.72,324.37 L370.06,329.16 L370.43,333.91 L370.81,338.60 L371.21,343.24 L371.63,347.83 L372.06,352.35 L372.52,356.81 L373.00,361.20 L373.49,365.52 L374.00,369.77 L374.53,373.94 L375.08,378.04 L375.65,382.05 L376.24,385.97 L376.84,389.81 L377.46,393.55 L378.10,397.19 L378.75,400.74 L379.43,404.18 L380.12,407.52 L380.83,410.74 L381.55,413.85 L382.29,416.85 L383.05,419.72 L383.82,422.47 L384.62,425.09 L385.42,427.58 L386.25,429.94 L387.08,432.16 L387.94,434.24 L388.81,436.17 L389.70,437.96 L390.60,439.60 L391.51,441.08 L392.44,442.41 L393.39,443.58 L394.35,444.59 L395.32,445.43 L396.31,446.11 L397.31,446.61 L398.33,446.95 L399.35,447.11 L400.40,447.09 L401.45,446.90 L402.52,446.53 L403.60,445.97 L404.69,445.24 L405.79,444.32 L406.91,443.22 L408.04,441.93 L409.18,440.46 L410.33,438.80 L411.49,436.95 L412.66,434.92 L413.84,432.70 L415.04,430.30 L416.24,427.71 L417.45,424.94 L418.67,421.98 L419.91,418.85 L421.15,415.54 L422.39,412.05 L423.65,408.38 L424.92,404.55 L426.19,400.54 L427.47,396.37 L428.76,392.03 L430.06,387.54 L431.36,382.89 L432.67,378.08 L433.99,373.13 L435.31,368.04 L436.64,362.81 L437.97,357.44 L439.31,351.95 L440.65,346.33 L442.00,340.60 L443.35,334.75 L444.71,328.80 L446.07,322.75 L447.44,316.61 L448.81,310.38 L450.18,304.07 L451.55,297.69 L452.93,291.25 L454.31,284.74 L455.69,278.18 L457.07,271.58 L458.46,264.94 L459.84,258.27 L461.23,251.57 L462.61,244.87 L464.00,238.15 L465.39,231.43 L466.77,224.73 L468.16,218.03 L469.54,211.36 L470.93,204.72 L472.31,198.12 L473.69,191.56 L475.07,185.05 L476.45,178.61 L477.82,172.23 L479.19,165.92 L480.56,159.69 L481.93,153.55 L483.29,147.50 L484.65,141.55 L486.00,135.70 L487.35,129.97 L488.69,124.35 L490.03,118.86 L491.36,113.49 L492.69,108.26 L494.01,103.17 L495.33,98.22 L496.64,93.41 L497.94,88.76 L499.24,84.27 L500.53,79.93 L501.81,75.76 L503.08,71.75 L504.35,67.92 L505.61,64.25 L506.85,60.76 L508.09,57.45 L509.33,54.32 L510.55,51.36 L511.76,48.59 L512.96,46.00 L514.16,43.60 L515.34,41.38 L516.51,39.35 L517.67,37.50 L518.82,35.84 L519.96,34.37 L521.09,33.08 L522.21,31.98 L523.31,31.06 L524.40,30.33 L525.48,29.77 L526.55,29.40 L527.60,29.21 L528.65,29.19 L529.67,29.35 L530.69,29.69 L531.69,30.19 L532.68,30.87 L533.65,31.71 L534.61,32.72 L535.56,33.89 L536.49,35.22 L537.40,36.70 L538.30,38.34 L539.19,40.13 L540.06,42.06 L540.92,44.14 L541.75,46.36 L542.58,48.72 L543.38,51.21 L544.18,53.83 L544.95,56.58 L545.71,59.45 L546.45,62.45 L547.17,65.56 L547.88,68.78 L548.57,72.12 L549.25,75.56 L549.90,79.11 L550.54,82.75 L551.16,86.49 L551.76,90.33 L552.35,94.25 L552.92,98.26 L553.47,102.36 L554.00,106.53 L554.51,110.78 L555.00,115.10 L555.48,119.49 L555.94,123.95 L556.37,128.47 L556.79,133.06 L557.19,137.70 L557.57,142.39 L557.94,147.14 L558.28,151.93 L558.60,156.77 L558.91,161.65 L559.19,166.57 L559.46,171.53 L559.70,176.53 L559.93,181.55 L560.14,186.60 L560.33,191.68 L560.49,196.78 L560.64,201.90 L560.77,207.03 L560.88,212.18 L560.97,217.34 L561.04,222.50 L561.09,227.65 L561.12,232.74 L561.13,236.65"/>
<path class="c" stroke="#000000" stroke-dasharray="10.5 3.55" stroke-dashoffset="-4.4" d="M733.62,236.65 L733.64,230.65 L733.70,223.39 L733.80,216.09 L733.94,208.81 L734.12,201.55 L734.33,194.33 L734.59,187.15 L734.89,180.03 L735.22,172.98 L735.59,165.99 L736.00,159.09 L736.45,152.28 L736.93,145.56 L737.45,138.95 L738.01,132.45 L738.61,126.08 L739.24,119.84 L739.90,113.74 L740.60,107.78 L741.33,101.99 L742.10,96.36 L742.90,90.90 L743.73,85.63 L744.59,80.54 L745.48,75.66 L746.41,70.98 L747.36,66.52 L748.34,62.28 L749.35,58.26 L750.38,54.49 L751.45,50.95 L752.53,47.67 L753.64,44.63 L754.78,41.86 L755.93,39.35 L757.11,37.12 L758.31,35.15 L759.52,33.46 L760.76,32.05 L762.01,30.92 L763.28,30.07 L764.57,29.50 L765.87,29.21 L767.18,29.21 L768.50,29.49 L769.84,30.04 L771.19,30.88 L772.54,31.98 L773.91,33.35 L775.28,34.98 L776.65,36.87 L778.03,39.01 L779.41,41.39 L780.80,44.00 L782.19,46.85 L783.57,49.91 L784.96,53.17 L786.34,56.64 L787.72,60.29 L789.10,64.12 L790.47,68.11 L791.83,72.26 L793.19,76.55 L794.53,80.96 L795.87,85.49 L797.19,90.13 L798.51,94.85 L799.81,99.66 L801.09,104.52 L802.36,109.44 L803.61,114.40 L804.85,119.39 L806.07,124.39 L807.26,129.39 L808.44,134.38 L809.60,139.35 L810.73,144.28 L811.84,149.18 L812.93,154.02 L813.99,158.79 L815.02,163.49 L816.03,168.10 L817.01,172.62 L817.97,177.04 L818.89,181.35 L819.78,185.54 L820.64,189.61 L821.48,193.54 L822.27,197.34 L823.04,200.99 L823.77,204.50 L824.47,207.85 L825.14,211.04 L825.77,214.07 L826.36,216.93 L826.92,219.62 L827.44,222.14 L827.93,224.48 L828.37,226.64 L828.78,228.63 L829.15,230.43 L829.49,232.04 L829.78,233.47 L830.04,234.71 L830.26,235.76 L830.43,236.62 L830.57,237.29 L830.67,237.77 L830.73,238.05 L830.75,238.15"/>
<text class="t" transform="translate(69.90,66.65) scale(1,1.0)" text-anchor="end">4</text>
<text class="t" transform="translate(69.90,156.05) scale(1,1.0)" text-anchor="end">2</text>
<text class="t" transform="translate(69.90,245.45) scale(1,1.0)" text-anchor="end">0</text>
<text transform="translate(36.08,337.25) scale(0.960,1)" style="font-size:30.0px;stroke-width:0.4px">−</text><text class="t" transform="translate(69.90,334.85) scale(1,1.0)" text-anchor="end">2</text>
<text transform="translate(36.08,426.65) scale(0.960,1)" style="font-size:30.0px;stroke-width:0.4px">−</text><text class="t" transform="translate(69.90,424.25) scale(1,1.0)" text-anchor="end">4</text>
<text class="t" transform="translate(96.45,504.0) scale(1,1.0)" text-anchor="middle">0</text>
<text class="it" transform="translate(180.69,493.70) scale(1.168,1)" style="font-size:20.3px">π</text><rect x="181.44" y="496.4" width="18.0" height="2.3" fill="#000"/><text class="f" x="181.65" y="517.8">4</text>
<text class="it" transform="translate(272.38,493.70) scale(1.168,1)" style="font-size:20.3px">π</text><rect x="273.12" y="496.4" width="18.0" height="2.3" fill="#000"/><text class="f" x="273.26" y="517.8">2</text>
<text class="f" x="356.81" y="496.0">3</text><text class="it" transform="translate(371.62,496.00) scale(1.168,1)" style="font-size:20.3px">π</text><rect x="357.86" y="499.0" width="32.55" height="2.3" fill="#000"/><text class="f" x="365.52" y="520.4">4</text>
<text class="it" transform="translate(453.14,503.80) scale(1.138,1)" style="font-size:29.2px">π</text>
<text class="f" x="540.14" y="496.0">5</text><text class="it" transform="translate(554.99,496.00) scale(1.168,1)" style="font-size:20.3px">π</text><rect x="541.24" y="499.0" width="32.55" height="2.3" fill="#000"/><text class="f" x="548.90" y="520.4">4</text>
<text class="f" x="631.87" y="496.0">3</text><text class="it" transform="translate(646.68,496.00) scale(1.168,1)" style="font-size:20.3px">π</text><rect x="632.92" y="499.0" width="32.55" height="2.3" fill="#000"/><text class="f" x="640.52" y="520.4">2</text>
<text class="f" x="723.28" y="496.0">7</text><text class="it" transform="translate(738.37,496.00) scale(1.168,1)" style="font-size:20.3px">π</text><rect x="724.61" y="499.0" width="32.55" height="2.3" fill="#000"/><text class="f" x="732.27" y="520.4">4</text>
<g><text class="t" transform="translate(809.30,503.8) scale(1,1.0)">2</text><text class="it" transform="translate(829.94,503.80) scale(1.138,1)" style="font-size:29.2px">π</text></g>
<g><text class="x" x="331.0" y="565.9" textLength="97.0" lengthAdjust="spacing">incident</text> <text class="x" x="434.8" y="565.9" textLength="73.5" lengthAdjust="spacing">angle,</text> <text class="x it" transform="translate(516.12,565.9) scale(1.08,1)">θ</text><text x="531.6" y="569.2" style="font-size:17.9px">i</text><text class="x" x="538.07" y="565.9" textLength="57.06" lengthAdjust="spacing">(rad)</text></g>
<g transform="translate(21.4,386.7) rotate(-90) scale(0.93,1)" class="yl" style="font-size:29.8px">
<text x="-1.25" y="0" textLength="128.59" lengthAdjust="spacing">diffraction</text> <text x="133.64" y="0" textLength="77.75" lengthAdjust="spacing">angle,</text> <text class="it" transform="translate(219.41,0.8) scale(1.258,1)" style="font-size:22.7px;stroke-width:0.85px">ϑ</text> <text x="241.59" y="0">(</text><text class="it" transform="translate(253.21,0) scale(0.839,1)" style="stroke-width:0.7px">μ</text><text x="264.38" y="0" textLength="54.35" lengthAdjust="spacing">rad)</text>
</g>
<text class="L" x="93.65" y="36.5">(a)</text>
</g>
<g id="panel-b">
<rect class="fr" x="912.3" y="0.45" width="807.2" height="489.95"/>
<path class="fr" d="M979.50,490.40 V481.20 M1117.62,490.40 V481.20 M1255.74,490.40 V481.20 M1393.86,490.40 V481.20 M1531.98,490.40 V481.20 M1670.10,490.40 V481.20 M912.30,434.20 H921.50 M912.30,339.80 H921.50 M912.30,245.40 H921.50 M912.30,151.00 H921.50 M912.30,56.60 H921.50"/>
<line x1="912.3" y1="245.4" x2="1719.5" y2="245.4" stroke="#404040" stroke-width="1.0" stroke-dasharray="7.3 6.55" stroke-dashoffset="0.35"/>
<path class="c cb" stroke="#ff8000" d="M936.60,245.40 L936.60,244.29 L936.61,242.85 L936.62,241.25 L936.63,239.54 L936.66,237.75 L936.69,235.90 L936.73,233.99 L936.78,232.03 L936.84,230.04 L936.91,228.03 L936.99,225.99 L937.08,223.93 L937.18,221.87 L937.29,219.81 L937.42,217.75 L937.55,215.70 L937.70,213.65 L937.86,211.63 L938.04,209.63 L938.23,207.66 L938.43,205.72 L938.65,203.81 L938.88,201.94 L939.12,200.11 L939.38,198.33 L939.66,196.59 L939.95,194.91 L940.25,193.28 L940.57,191.71 L940.91,190.19 L941.26,188.73 L941.63,187.33 L942.02,186.00 L942.42,184.73 L942.84,183.52 L943.28,182.37 L943.73,181.29 L944.20,180.27 L944.69,179.32 L945.20,178.43 L945.72,177.60 L946.27,176.84 L946.83,176.13 L947.41,175.49 L948.01,174.91 L948.62,174.38 L949.26,173.91 L949.92,173.50 L950.59,173.14 L951.29,172.83 L952.00,172.57 L952.74,172.37 L953.49,172.21 L954.27,172.09 L955.06,172.02 L955.88,171.99 L956.72,172.00 L957.57,172.05 L958.45,172.14 L959.35,172.26 L960.27,172.41 L961.21,172.60 L962.18,172.82 L963.16,173.06 L964.17,173.34 L965.20,173.63 L966.25,173.96 L967.32,174.30 L968.42,174.67 L969.54,175.05 L970.68,175.46 L971.84,175.88 L973.03,176.32 L974.24,176.77 L975.47,177.24 L976.72,177.72 L978.00,178.21 L979.30,178.71 L980.63,179.23 L981.98,179.75 L983.35,180.28 L984.75,180.81 L986.17,181.36 L987.62,181.90 L989.09,182.46 L990.58,183.02 L992.10,183.58 L993.64,184.14 L995.21,184.71 L996.80,185.28 L998.42,185.85 L1000.06,186.42 L1001.73,187.00 L1003.43,187.57 L1005.15,188.14 L1006.89,188.71 L1008.66,189.29 L1010.46,189.86 L1012.28,190.42 L1014.13,190.99 L1016.00,191.55 L1017.90,192.12 L1019.82,192.67 L1021.78,193.23 L1023.76,193.78 L1025.76,194.33 L1027.79,194.88 L1029.85,195.42 L1031.94,195.96 L1034.05,196.49 L1036.19,197.02 L1038.36,197.55 L1040.55,198.07 L1042.77,198.59 L1045.02,199.10 L1047.30,199.61 L1049.60,200.12 L1051.93,200.62 L1054.29,201.11 L1056.68,201.60 L1059.10,202.08 L1061.54,202.56 L1064.01,203.04 L1066.51,203.51 L1069.04,203.98 L1071.60,204.44 L1074.18,204.89 L1076.80,205.34 L1079.44,205.79 L1082.11,206.23 L1084.82,206.66 L1087.55,207.10 L1090.30,207.52 L1093.09,207.94 L1095.91,208.36 L1098.76,208.77 L1101.63,209.18 L1104.54,209.58 L1107.47,209.98 L1110.44,210.37 L1113.43,210.76 L1116.46,211.14 L1119.51,211.52 L1122.60,211.89 L1125.71,212.26 L1128.86,212.62 L1132.04,212.98 L1135.24,213.34 L1138.48,213.69 L1141.75,214.04 L1145.04,214.38 L1148.37,214.72 L1151.73,215.05 L1155.12,215.38 L1158.54,215.71 L1161.99,216.03 L1165.48,216.34 L1168.99,216.66 L1172.54,216.97 L1176.11,217.27 L1179.72,217.57 L1183.36,217.87 L1187.03,218.16 L1190.74,218.45 L1194.47,218.74 L1198.24,219.02 L1202.04,219.30 L1205.87,219.58 L1209.73,219.85 L1213.63,220.12 L1217.55,220.38 L1221.51,220.65 L1225.50,220.90 L1229.53,221.16 L1233.58,221.41 L1237.67,221.66 L1241.80,221.91 L1245.95,222.15 L1250.14,222.39 L1254.36,222.62 L1258.61,222.86 L1262.90,223.09 L1267.22,223.31 L1271.57,223.54 L1275.95,223.76 L1280.37,223.98 L1284.83,224.19 L1289.31,224.41 L1293.83,224.62 L1298.39,224.83 L1302.97,225.03 L1307.59,225.23 L1312.25,225.43 L1316.93,225.63 L1321.66,225.83 L1326.41,226.02 L1331.20,226.21 L1336.03,226.40 L1340.89,226.58 L1345.78,226.76 L1350.71,226.95 L1355.67,227.12 L1360.67,227.30 L1365.70,227.47 L1370.76,227.65 L1375.86,227.82 L1381.00,227.98 L1386.17,228.15 L1391.37,228.31 L1396.61,228.47 L1401.89,228.63 L1407.20,228.79 L1412.54,228.95 L1417.92,229.10 L1423.34,229.25 L1428.79,229.40 L1434.27,229.55 L1439.80,229.70 L1445.35,229.84 L1450.95,229.99 L1456.58,230.13 L1462.24,230.27 L1467.94,230.41 L1473.68,230.54 L1479.45,230.68 L1485.26,230.81 L1491.10,230.94 L1496.98,231.07 L1502.90,231.20 L1508.85,231.33 L1514.84,231.45 L1520.87,231.58 L1526.93,231.70 L1533.03,231.82 L1539.17,231.94 L1545.34,232.06 L1551.55,232.17 L1557.79,232.29 L1564.08,232.40 L1570.40,232.52 L1576.75,232.63 L1583.15,232.74 L1589.58,232.85 L1596.04,232.96 L1602.55,233.06 L1609.09,233.17 L1615.67,233.27 L1622.29,233.37 L1628.94,233.48 L1635.63,233.58 L1642.36,233.68 L1649.13,233.77 L1655.94,233.87 L1662.78,233.97 L1669.66,234.06 L1676.58,234.16 L1683.53,234.25 L1690.53,234.34 L1697.56,234.43 L1704.63,234.52"/>
<path class="c cb" stroke="#ff8000" stroke-dasharray="10.75 3.2" stroke-dashoffset="8.5" d="M936.60,245.40 L936.60,246.51 L936.61,247.95 L936.62,249.55 L936.63,251.26 L936.66,253.05 L936.69,254.90 L936.73,256.81 L936.78,258.77 L936.84,260.76 L936.91,262.77 L936.99,264.81 L937.08,266.87 L937.18,268.93 L937.29,270.99 L937.42,273.05 L937.55,275.10 L937.70,277.15 L937.86,279.17 L938.04,281.17 L938.23,283.14 L938.43,285.08 L938.65,286.99 L938.88,288.86 L939.12,290.69 L939.38,292.47 L939.66,294.21 L939.95,295.89 L940.25,297.52 L940.57,299.09 L940.91,300.61 L941.26,302.07 L941.63,303.47 L942.02,304.80 L942.42,306.07 L942.84,307.28 L943.28,308.43 L943.73,309.51 L944.20,310.53 L944.69,311.48 L945.20,312.37 L945.72,313.20 L946.27,313.96 L946.83,314.67 L947.41,315.31 L948.01,315.89 L948.62,316.42 L949.26,316.89 L949.92,317.30 L950.59,317.66 L951.29,317.97 L952.00,318.23 L952.74,318.43 L953.49,318.59 L954.27,318.71 L955.06,318.78 L955.88,318.81 L956.72,318.80 L957.57,318.75 L958.45,318.66 L959.35,318.54 L960.27,318.39 L961.21,318.20 L962.18,317.98 L963.16,317.74 L964.17,317.46 L965.20,317.17 L966.25,316.84 L967.32,316.50 L968.42,316.13 L969.54,315.75 L970.68,315.34 L971.84,314.92 L973.03,314.48 L974.24,314.03 L975.47,313.56 L976.72,313.08 L978.00,312.59 L979.30,312.09 L980.63,311.57 L981.98,311.05 L983.35,310.52 L984.75,309.99 L986.17,309.44 L987.62,308.90 L989.09,308.34 L990.58,307.78 L992.10,307.22 L993.64,306.66 L995.21,306.09 L996.80,305.52 L998.42,304.95 L1000.06,304.38 L1001.73,303.80 L1003.43,303.23 L1005.15,302.66 L1006.89,302.09 L1008.66,301.51 L1010.46,300.94 L1012.28,300.38 L1014.13,299.81 L1016.00,299.25 L1017.90,298.68 L1019.82,298.13 L1021.78,297.57 L1023.76,297.02 L1025.76,296.47 L1027.79,295.92 L1029.85,295.38 L1031.94,294.84 L1034.05,294.31 L1036.19,293.78 L1038.36,293.25 L1040.55,292.73 L1042.77,292.21 L1045.02,291.70 L1047.30,291.19 L1049.60,290.68 L1051.93,290.18 L1054.29,289.69 L1056.68,289.20 L1059.10,288.72 L1061.54,288.24 L1064.01,287.76 L1066.51,287.29 L1069.04,286.82 L1071.60,286.36 L1074.18,285.91 L1076.80,285.46 L1079.44,285.01 L1082.11,284.57 L1084.82,284.14 L1087.55,283.70 L1090.30,283.28 L1093.09,282.86 L1095.91,282.44 L1098.76,282.03 L1101.63,281.62 L1104.54,281.22 L1107.47,280.82 L1110.44,280.43 L1113.43,280.04 L1116.46,279.66 L1119.51,279.28 L1122.60,278.91 L1125.71,278.54 L1128.86,278.18 L1132.04,277.82 L1135.24,277.46 L1138.48,277.11 L1141.75,276.76 L1145.04,276.42 L1148.37,276.08 L1151.73,275.75 L1155.12,275.42 L1158.54,275.09 L1161.99,274.77 L1165.48,274.46 L1168.99,274.14 L1172.54,273.83 L1176.11,273.53 L1179.72,273.23 L1183.36,272.93 L1187.03,272.64 L1190.74,272.35 L1194.47,272.06 L1198.24,271.78 L1202.04,271.50 L1205.87,271.22 L1209.73,270.95 L1213.63,270.68 L1217.55,270.42 L1221.51,270.15 L1225.50,269.90 L1229.53,269.64 L1233.58,269.39 L1237.67,269.14 L1241.80,268.89 L1245.95,268.65 L1250.14,268.41 L1254.36,268.18 L1258.61,267.94 L1262.90,267.71 L1267.22,267.49 L1271.57,267.26 L1275.95,267.04 L1280.37,266.82 L1284.83,266.61 L1289.31,266.39 L1293.83,266.18 L1298.39,265.97 L1302.97,265.77 L1307.59,265.57 L1312.25,265.37 L1316.93,265.17 L1321.66,264.97 L1326.41,264.78 L1331.20,264.59 L1336.03,264.40 L1340.89,264.22 L1345.78,264.04 L1350.71,263.85 L1355.67,263.68 L1360.67,263.50 L1365.70,263.33 L1370.76,263.15 L1375.86,262.98 L1381.00,262.82 L1386.17,262.65 L1391.37,262.49 L1396.61,262.33 L1401.89,262.17 L1407.20,262.01 L1412.54,261.85 L1417.92,261.70 L1423.34,261.55 L1428.79,261.40 L1434.27,261.25 L1439.80,261.10 L1445.35,260.96 L1450.95,260.81 L1456.58,260.67 L1462.24,260.53 L1467.94,260.39 L1473.68,260.26 L1479.45,260.12 L1485.26,259.99 L1491.10,259.86 L1496.98,259.73 L1502.90,259.60 L1508.85,259.47 L1514.84,259.35 L1520.87,259.22 L1526.93,259.10 L1533.03,258.98 L1539.17,258.86 L1545.34,258.74 L1551.55,258.63 L1557.79,258.51 L1564.08,258.40 L1570.40,258.28 L1576.75,258.17 L1583.15,258.06 L1589.58,257.95 L1596.04,257.84 L1602.55,257.74 L1609.09,257.63 L1615.67,257.53 L1622.29,257.43 L1628.94,257.32 L1635.63,257.22 L1642.36,257.12 L1649.13,257.03 L1655.94,256.93 L1662.78,256.83 L1669.66,256.74 L1676.58,256.64 L1683.53,256.55 L1690.53,256.46 L1697.56,256.37 L1704.63,256.28"/>
<path class="c cb" stroke="#ff0000" d="M936.60,245.40 L936.60,243.18 L936.61,240.30 L936.62,237.10 L936.63,233.69 L936.66,230.11 L936.69,226.40 L936.73,222.57 L936.78,218.67 L936.84,214.69 L936.91,210.65 L936.99,206.57 L937.08,202.47 L937.18,198.35 L937.29,194.22 L937.42,190.10 L937.55,185.99 L937.70,181.91 L937.86,177.86 L938.04,173.86 L938.23,169.92 L938.43,166.03 L938.65,162.22 L938.88,158.48 L939.12,154.82 L939.38,151.26 L939.66,147.79 L939.95,144.42 L940.25,141.16 L940.57,138.01 L940.91,134.98 L941.26,132.06 L941.63,129.27 L942.02,126.60 L942.42,124.05 L942.84,121.63 L943.28,119.34 L943.73,117.18 L944.20,115.14 L944.69,113.24 L945.20,111.46 L945.72,109.80 L946.27,108.27 L946.83,106.87 L947.41,105.58 L948.01,104.41 L948.62,103.36 L949.26,102.42 L949.92,101.60 L950.59,100.88 L951.29,100.26 L952.00,99.75 L952.74,99.33 L953.49,99.01 L954.27,98.78 L955.06,98.64 L955.88,98.58 L956.72,98.60 L957.57,98.70 L958.45,98.87 L959.35,99.12 L960.27,99.43 L961.21,99.80 L962.18,100.23 L963.16,100.72 L964.17,101.27 L965.20,101.87 L966.25,102.51 L967.32,103.20 L968.42,103.93 L969.54,104.71 L970.68,105.52 L971.84,106.36 L973.03,107.24 L974.24,108.14 L975.47,109.08 L976.72,110.04 L978.00,111.02 L979.30,112.03 L980.63,113.05 L981.98,114.09 L983.35,115.15 L984.75,116.22 L986.17,117.31 L987.62,118.41 L989.09,119.52 L990.58,120.63 L992.10,121.76 L993.64,122.89 L995.21,124.02 L996.80,125.16 L998.42,126.30 L1000.06,127.45 L1001.73,128.59 L1003.43,129.74 L1005.15,130.88 L1006.89,132.03 L1008.66,133.17 L1010.46,134.31 L1012.28,135.45 L1014.13,136.58 L1016.00,137.71 L1017.90,138.83 L1019.82,139.95 L1021.78,141.06 L1023.76,142.17 L1025.76,143.26 L1027.79,144.36 L1029.85,145.44 L1031.94,146.52 L1034.05,147.59 L1036.19,148.65 L1038.36,149.70 L1040.55,150.75 L1042.77,151.78 L1045.02,152.81 L1047.30,153.82 L1049.60,154.83 L1051.93,155.83 L1054.29,156.82 L1056.68,157.80 L1059.10,158.77 L1061.54,159.73 L1064.01,160.68 L1066.51,161.62 L1069.04,162.55 L1071.60,163.47 L1074.18,164.38 L1076.80,165.29 L1079.44,166.18 L1082.11,167.06 L1084.82,167.93 L1087.55,168.79 L1090.30,169.64 L1093.09,170.49 L1095.91,171.32 L1098.76,172.14 L1101.63,172.95 L1104.54,173.76 L1107.47,174.55 L1110.44,175.34 L1113.43,176.11 L1116.46,176.88 L1119.51,177.63 L1122.60,178.38 L1125.71,179.12 L1128.86,179.85 L1132.04,180.57 L1135.24,181.28 L1138.48,181.98 L1141.75,182.67 L1145.04,183.36 L1148.37,184.03 L1151.73,184.70 L1155.12,185.36 L1158.54,186.01 L1161.99,186.65 L1165.48,187.29 L1168.99,187.91 L1172.54,188.53 L1176.11,189.14 L1179.72,189.75 L1183.36,190.34 L1187.03,190.93 L1190.74,191.51 L1194.47,192.08 L1198.24,192.65 L1202.04,193.21 L1205.87,193.76 L1209.73,194.30 L1213.63,194.84 L1217.55,195.37 L1221.51,195.89 L1225.50,196.41 L1229.53,196.92 L1233.58,197.42 L1237.67,197.92 L1241.80,198.41 L1245.95,198.90 L1250.14,199.37 L1254.36,199.85 L1258.61,200.31 L1262.90,200.77 L1267.22,201.23 L1271.57,201.68 L1275.95,202.12 L1280.37,202.56 L1284.83,202.99 L1289.31,203.41 L1293.83,203.83 L1298.39,204.25 L1302.97,204.66 L1307.59,205.07 L1312.25,205.47 L1316.93,205.86 L1321.66,206.25 L1326.41,206.64 L1331.20,207.02 L1336.03,207.39 L1340.89,207.76 L1345.78,208.13 L1350.71,208.49 L1355.67,208.85 L1360.67,209.20 L1365.70,209.55 L1370.76,209.89 L1375.86,210.23 L1381.00,210.57 L1386.17,210.90 L1391.37,211.23 L1396.61,211.55 L1401.89,211.87 L1407.20,212.18 L1412.54,212.50 L1417.92,212.80 L1423.34,213.11 L1428.79,213.41 L1434.27,213.71 L1439.80,214.00 L1445.35,214.29 L1450.95,214.57 L1456.58,214.86 L1462.24,215.14 L1467.94,215.41 L1473.68,215.68 L1479.45,215.95 L1485.26,216.22 L1491.10,216.48 L1496.98,216.74 L1502.90,217.00 L1508.85,217.25 L1514.84,217.50 L1520.87,217.75 L1526.93,218.00 L1533.03,218.24 L1539.17,218.48 L1545.34,218.71 L1551.55,218.95 L1557.79,219.18 L1564.08,219.41 L1570.40,219.63 L1576.75,219.86 L1583.15,220.08 L1589.58,220.29 L1596.04,220.51 L1602.55,220.72 L1609.09,220.93 L1615.67,221.14 L1622.29,221.35 L1628.94,221.55 L1635.63,221.75 L1642.36,221.95 L1649.13,222.15 L1655.94,222.34 L1662.78,222.54 L1669.66,222.73 L1676.58,222.91 L1683.53,223.10 L1690.53,223.28 L1697.56,223.47 L1704.63,223.64"/>
<path class="c cb" stroke="#ff0000" stroke-dasharray="10.75 3.2" stroke-dashoffset="5.0" d="M936.60,245.40 L936.60,247.62 L936.61,250.50 L936.62,253.70 L936.63,257.11 L936.66,260.69 L936.69,264.40 L936.73,268.23 L936.78,272.13 L936.84,276.11 L936.91,280.15 L936.99,284.23 L937.08,288.33 L937.18,292.45 L937.29,296.58 L937.42,300.70 L937.55,304.81 L937.70,308.89 L937.86,312.94 L938.04,316.94 L938.23,320.88 L938.43,324.77 L938.65,328.58 L938.88,332.32 L939.12,335.98 L939.38,339.54 L939.66,343.01 L939.95,346.38 L940.25,349.64 L940.57,352.79 L940.91,355.82 L941.26,358.74 L941.63,361.53 L942.02,364.20 L942.42,366.75 L942.84,369.17 L943.28,371.46 L943.73,373.62 L944.20,375.66 L944.69,377.56 L945.20,379.34 L945.72,381.00 L946.27,382.53 L946.83,383.93 L947.41,385.22 L948.01,386.39 L948.62,387.44 L949.26,388.38 L949.92,389.20 L950.59,389.92 L951.29,390.54 L952.00,391.05 L952.74,391.47 L953.49,391.79 L954.27,392.02 L955.06,392.16 L955.88,392.22 L956.72,392.20 L957.57,392.10 L958.45,391.93 L959.35,391.68 L960.27,391.37 L961.21,391.00 L962.18,390.57 L963.16,390.08 L964.17,389.53 L965.20,388.93 L966.25,388.29 L967.32,387.60 L968.42,386.87 L969.54,386.09 L970.68,385.28 L971.84,384.44 L973.03,383.56 L974.24,382.66 L975.47,381.72 L976.72,380.76 L978.00,379.78 L979.30,378.77 L980.63,377.75 L981.98,376.71 L983.35,375.65 L984.75,374.58 L986.17,373.49 L987.62,372.39 L989.09,371.28 L990.58,370.17 L992.10,369.04 L993.64,367.91 L995.21,366.78 L996.80,365.64 L998.42,364.50 L1000.06,363.35 L1001.73,362.21 L1003.43,361.06 L1005.15,359.92 L1006.89,358.77 L1008.66,357.63 L1010.46,356.49 L1012.28,355.35 L1014.13,354.22 L1016.00,353.09 L1017.90,351.97 L1019.82,350.85 L1021.78,349.74 L1023.76,348.63 L1025.76,347.54 L1027.79,346.44 L1029.85,345.36 L1031.94,344.28 L1034.05,343.21 L1036.19,342.15 L1038.36,341.10 L1040.55,340.05 L1042.77,339.02 L1045.02,337.99 L1047.30,336.98 L1049.60,335.97 L1051.93,334.97 L1054.29,333.98 L1056.68,333.00 L1059.10,332.03 L1061.54,331.07 L1064.01,330.12 L1066.51,329.18 L1069.04,328.25 L1071.60,327.33 L1074.18,326.42 L1076.80,325.51 L1079.44,324.62 L1082.11,323.74 L1084.82,322.87 L1087.55,322.01 L1090.30,321.16 L1093.09,320.31 L1095.91,319.48 L1098.76,318.66 L1101.63,317.85 L1104.54,317.04 L1107.47,316.25 L1110.44,315.46 L1113.43,314.69 L1116.46,313.92 L1119.51,313.17 L1122.60,312.42 L1125.71,311.68 L1128.86,310.95 L1132.04,310.23 L1135.24,309.52 L1138.48,308.82 L1141.75,308.13 L1145.04,307.44 L1148.37,306.77 L1151.73,306.10 L1155.12,305.44 L1158.54,304.79 L1161.99,304.15 L1165.48,303.51 L1168.99,302.89 L1172.54,302.27 L1176.11,301.66 L1179.72,301.05 L1183.36,300.46 L1187.03,299.87 L1190.74,299.29 L1194.47,298.72 L1198.24,298.15 L1202.04,297.59 L1205.87,297.04 L1209.73,296.50 L1213.63,295.96 L1217.55,295.43 L1221.51,294.91 L1225.50,294.39 L1229.53,293.88 L1233.58,293.38 L1237.67,292.88 L1241.80,292.39 L1245.95,291.90 L1250.14,291.43 L1254.36,290.95 L1258.61,290.49 L1262.90,290.03 L1267.22,289.57 L1271.57,289.12 L1275.95,288.68 L1280.37,288.24 L1284.83,287.81 L1289.31,287.39 L1293.83,286.97 L1298.39,286.55 L1302.97,286.14 L1307.59,285.73 L1312.25,285.33 L1316.93,284.94 L1321.66,284.55 L1326.41,284.16 L1331.20,283.78 L1336.03,283.41 L1340.89,283.04 L1345.78,282.67 L1350.71,282.31 L1355.67,281.95 L1360.67,281.60 L1365.70,281.25 L1370.76,280.91 L1375.86,280.57 L1381.00,280.23 L1386.17,279.90 L1391.37,279.57 L1396.61,279.25 L1401.89,278.93 L1407.20,278.62 L1412.54,278.30 L1417.92,278.00 L1423.34,277.69 L1428.79,277.39 L1434.27,277.09 L1439.80,276.80 L1445.35,276.51 L1450.95,276.23 L1456.58,275.94 L1462.24,275.66 L1467.94,275.39 L1473.68,275.12 L1479.45,274.85 L1485.26,274.58 L1491.10,274.32 L1496.98,274.06 L1502.90,273.80 L1508.85,273.55 L1514.84,273.30 L1520.87,273.05 L1526.93,272.80 L1533.03,272.56 L1539.17,272.32 L1545.34,272.09 L1551.55,271.85 L1557.79,271.62 L1564.08,271.39 L1570.40,271.17 L1576.75,270.94 L1583.15,270.72 L1589.58,270.51 L1596.04,270.29 L1602.55,270.08 L1609.09,269.87 L1615.67,269.66 L1622.29,269.45 L1628.94,269.25 L1635.63,269.05 L1642.36,268.85 L1649.13,268.65 L1655.94,268.46 L1662.78,268.26 L1669.66,268.07 L1676.58,267.89 L1683.53,267.70 L1690.53,267.52 L1697.56,267.33 L1704.63,267.16"/>
<path class="c cb" stroke="#000000" d="M936.60,243.90 L936.60,241.74 L936.61,237.60 L936.62,232.86 L936.63,227.77 L936.66,222.41 L936.69,216.85 L936.73,211.13 L936.78,205.27 L936.84,199.31 L936.91,193.26 L936.99,187.14 L937.08,180.99 L937.18,174.81 L937.29,168.62 L937.42,162.43 L937.55,156.27 L937.70,150.16 L937.87,144.09 L938.04,138.09 L938.23,132.17 L938.43,126.34 L938.65,120.62 L938.88,115.01 L939.12,109.53 L939.38,104.18 L939.66,98.98 L939.95,93.93 L940.25,89.04 L940.57,84.32 L940.91,79.76 L941.26,75.39 L941.63,71.20 L942.02,67.19 L942.42,63.37 L942.84,59.75 L943.28,56.31 L943.73,53.07 L944.20,50.01 L944.69,47.15 L945.20,44.48 L945.72,42.00 L946.27,39.71 L946.83,37.60 L947.41,35.67 L948.01,33.92 L948.62,32.34 L949.26,30.93 L949.92,29.69 L950.59,28.62 L951.29,27.69 L952.00,26.92 L952.74,26.30 L953.49,25.82 L954.27,25.47 L955.06,25.26 L955.88,25.17 L956.72,25.20 L957.57,25.35 L958.45,25.61 L959.35,25.97 L960.27,26.44 L961.21,27.00 L962.18,27.65 L963.16,28.39 L964.17,29.21 L965.20,30.10 L966.25,31.07 L967.32,32.10 L968.42,33.20 L969.54,34.36 L970.68,35.57 L971.84,36.84 L973.03,38.16 L974.24,39.52 L975.47,40.92 L976.72,42.36 L978.00,43.83 L979.30,45.34 L980.63,46.88 L981.98,48.44 L983.35,50.03 L984.75,51.64 L986.17,53.27 L987.62,54.91 L989.09,56.57 L990.58,58.25 L992.10,59.93 L993.64,61.63 L995.21,63.33 L996.80,65.04 L998.42,66.76 L1000.06,68.47 L1001.73,70.19 L1003.43,71.91 L1005.15,73.63 L1006.89,75.34 L1008.66,77.06 L1010.46,78.77 L1012.28,80.47 L1014.13,82.17 L1016.00,83.86 L1017.90,85.55 L1019.82,87.22 L1021.78,88.89 L1023.76,90.55 L1025.76,92.20 L1027.79,93.83 L1029.85,95.46 L1031.94,97.08 L1034.05,98.68 L1036.19,100.27 L1038.36,101.85 L1040.55,103.42 L1042.77,104.97 L1045.02,106.51 L1047.30,108.04 L1049.60,109.55 L1051.93,111.05 L1054.29,112.53 L1056.68,114.00 L1059.10,115.45 L1061.54,116.90 L1064.01,118.32 L1066.51,119.73 L1069.04,121.13 L1071.60,122.51 L1074.19,123.88 L1076.80,125.23 L1079.44,126.57 L1082.11,127.89 L1084.82,129.20 L1087.55,130.49 L1090.30,131.77 L1093.09,133.03 L1095.91,134.28 L1098.76,135.51 L1101.63,136.73 L1104.54,137.94 L1107.47,139.13 L1110.44,140.30 L1113.44,141.47 L1116.46,142.61 L1119.51,143.75 L1122.60,144.87 L1125.71,145.98 L1128.86,147.07 L1132.04,148.15 L1135.24,149.21 L1138.48,150.27 L1141.75,151.31 L1145.04,152.34 L1148.37,153.35 L1151.73,154.35 L1155.12,155.34 L1158.54,156.32 L1161.99,157.28 L1165.48,158.23 L1168.99,159.17 L1172.54,160.10 L1176.11,161.02 L1179.72,161.92 L1183.36,162.81 L1187.03,163.69 L1190.74,164.56 L1194.47,165.42 L1198.24,166.27 L1202.04,167.11 L1205.87,167.94 L1209.73,168.75 L1213.63,169.56 L1217.55,170.35 L1221.51,171.14 L1225.50,171.91 L1229.53,172.68 L1233.58,173.43 L1237.67,174.18 L1241.80,174.92 L1245.95,175.64 L1250.14,176.36 L1254.36,177.07 L1258.61,177.77 L1262.90,178.46 L1267.22,179.14 L1271.57,179.81 L1275.96,180.48 L1280.37,181.13 L1284.83,181.78 L1289.31,182.42 L1293.83,183.05 L1298.39,183.68 L1302.97,184.29 L1307.59,184.90 L1312.25,185.50 L1316.94,186.09 L1321.66,186.68 L1326.41,187.25 L1331.20,187.82 L1336.03,188.39 L1340.89,188.94 L1345.78,189.49 L1350.71,190.04 L1355.67,190.57 L1360.67,191.10 L1365.70,191.62 L1370.76,192.14 L1375.86,192.65 L1381.00,193.15 L1386.17,193.65 L1391.37,194.14 L1396.61,194.62 L1401.89,195.10 L1407.20,195.58 L1412.54,196.04 L1417.92,196.51 L1423.34,196.96 L1428.79,197.41 L1434.27,197.86 L1439.80,198.30 L1445.35,198.73 L1450.95,199.16 L1456.58,199.58 L1462.24,200.00 L1467.94,200.42 L1473.68,200.83 L1479.45,201.23 L1485.26,201.63 L1491.10,202.02 L1496.98,202.41 L1502.90,202.80 L1508.85,203.18 L1514.84,203.56 L1520.87,203.93 L1526.93,204.30 L1533.03,204.66 L1539.17,205.02 L1545.34,205.37 L1551.55,205.72 L1557.79,206.07 L1564.08,206.41 L1570.40,206.75 L1576.75,207.08 L1583.15,207.42 L1589.58,207.74 L1596.04,208.07 L1602.55,208.38 L1609.09,208.70 L1615.67,209.01 L1622.29,209.32 L1628.94,209.63 L1635.63,209.93 L1642.36,210.23 L1649.13,210.52 L1655.94,210.81 L1662.78,211.10 L1669.66,211.39 L1676.58,211.67 L1683.53,211.95 L1690.53,212.22 L1697.56,212.50 L1704.63,212.77"/>
<path class="c cb" stroke="#000000" stroke-dasharray="10.75 3.2" stroke-dashoffset="0" d="M936.60,246.90 L936.60,249.06 L936.61,253.20 L936.62,257.94 L936.63,263.03 L936.66,268.39 L936.69,273.95 L936.73,279.67 L936.78,285.53 L936.84,291.49 L936.91,297.54 L936.99,303.66 L937.08,309.81 L937.18,315.99 L937.29,322.18 L937.42,328.37 L937.55,334.53 L937.70,340.64 L937.87,346.71 L938.04,352.71 L938.23,358.63 L938.43,364.46 L938.65,370.18 L938.88,375.79 L939.12,381.27 L939.38,386.62 L939.66,391.82 L939.95,396.87 L940.25,401.76 L940.57,406.48 L940.91,411.04 L941.26,415.41 L941.63,419.60 L942.02,423.61 L942.42,427.43 L942.84,431.05 L943.28,434.49 L943.73,437.73 L944.20,440.79 L944.69,443.65 L945.20,446.32 L945.72,448.80 L946.27,451.09 L946.83,453.20 L947.41,455.13 L948.01,456.88 L948.62,458.46 L949.26,459.87 L949.92,461.11 L950.59,462.18 L951.29,463.11 L952.00,463.88 L952.74,464.50 L953.49,464.98 L954.27,465.33 L955.06,465.54 L955.88,465.63 L956.72,465.60 L957.57,465.45 L958.45,465.19 L959.35,464.83 L960.27,464.36 L961.21,463.80 L962.18,463.15 L963.16,462.41 L964.17,461.59 L965.20,460.70 L966.25,459.73 L967.32,458.70 L968.42,457.60 L969.54,456.44 L970.68,455.23 L971.84,453.96 L973.03,452.64 L974.24,451.28 L975.47,449.88 L976.72,448.44 L978.00,446.97 L979.30,445.46 L980.63,443.92 L981.98,442.36 L983.35,440.77 L984.75,439.16 L986.17,437.53 L987.62,435.89 L989.09,434.23 L990.58,432.55 L992.10,430.87 L993.64,429.17 L995.21,427.47 L996.80,425.76 L998.42,424.04 L1000.06,422.33 L1001.73,420.61 L1003.43,418.89 L1005.15,417.17 L1006.89,415.46 L1008.66,413.74 L1010.46,412.03 L1012.28,410.33 L1014.13,408.63 L1016.00,406.94 L1017.90,405.25 L1019.82,403.58 L1021.78,401.91 L1023.76,400.25 L1025.76,398.60 L1027.79,396.97 L1029.85,395.34 L1031.94,393.72 L1034.05,392.12 L1036.19,390.53 L1038.36,388.95 L1040.55,387.38 L1042.77,385.83 L1045.02,384.29 L1047.30,382.76 L1049.60,381.25 L1051.93,379.75 L1054.29,378.27 L1056.68,376.80 L1059.10,375.35 L1061.54,373.90 L1064.01,372.48 L1066.51,371.07 L1069.04,369.67 L1071.60,368.29 L1074.19,366.92 L1076.80,365.57 L1079.44,364.23 L1082.11,362.91 L1084.82,361.60 L1087.55,360.31 L1090.30,359.03 L1093.09,357.77 L1095.91,356.52 L1098.76,355.29 L1101.63,354.07 L1104.54,352.86 L1107.47,351.67 L1110.44,350.50 L1113.44,349.33 L1116.46,348.19 L1119.51,347.05 L1122.60,345.93 L1125.71,344.82 L1128.86,343.73 L1132.04,342.65 L1135.24,341.59 L1138.48,340.53 L1141.75,339.49 L1145.04,338.46 L1148.37,337.45 L1151.73,336.45 L1155.12,335.46 L1158.54,334.48 L1161.99,333.52 L1165.48,332.57 L1168.99,331.63 L1172.54,330.70 L1176.11,329.78 L1179.72,328.88 L1183.36,327.99 L1187.03,327.11 L1190.74,326.24 L1194.47,325.38 L1198.24,324.53 L1202.04,323.69 L1205.87,322.86 L1209.73,322.05 L1213.63,321.24 L1217.55,320.45 L1221.51,319.66 L1225.50,318.89 L1229.53,318.12 L1233.58,317.37 L1237.67,316.62 L1241.80,315.88 L1245.95,315.16 L1250.14,314.44 L1254.36,313.73 L1258.61,313.03 L1262.90,312.34 L1267.22,311.66 L1271.57,310.99 L1275.96,310.32 L1280.37,309.67 L1284.83,309.02 L1289.31,308.38 L1293.83,307.75 L1298.39,307.12 L1302.97,306.51 L1307.59,305.90 L1312.25,305.30 L1316.94,304.71 L1321.66,304.12 L1326.41,303.55 L1331.20,302.98 L1336.03,302.41 L1340.89,301.86 L1345.78,301.31 L1350.71,300.76 L1355.67,300.23 L1360.67,299.70 L1365.70,299.18 L1370.76,298.66 L1375.86,298.15 L1381.00,297.65 L1386.17,297.15 L1391.37,296.66 L1396.61,296.18 L1401.89,295.70 L1407.20,295.22 L1412.54,294.76 L1417.92,294.29 L1423.34,293.84 L1428.79,293.39 L1434.27,292.94 L1439.80,292.50 L1445.35,292.07 L1450.95,291.64 L1456.58,291.22 L1462.24,290.80 L1467.94,290.38 L1473.68,289.97 L1479.45,289.57 L1485.26,289.17 L1491.10,288.78 L1496.98,288.39 L1502.90,288.00 L1508.85,287.62 L1514.84,287.24 L1520.87,286.87 L1526.93,286.50 L1533.03,286.14 L1539.17,285.78 L1545.34,285.43 L1551.55,285.08 L1557.79,284.73 L1564.08,284.39 L1570.40,284.05 L1576.75,283.72 L1583.15,283.38 L1589.58,283.06 L1596.04,282.73 L1602.55,282.42 L1609.09,282.10 L1615.67,281.79 L1622.29,281.48 L1628.94,281.17 L1635.63,280.87 L1642.36,280.57 L1649.13,280.28 L1655.94,279.99 L1662.78,279.70 L1669.66,279.41 L1676.58,279.13 L1683.53,278.85 L1690.53,278.58 L1697.56,278.30 L1704.63,278.03"/>
<text class="t" transform="translate(901.00,63.90) scale(1,1.0)" text-anchor="end">4</text>
<text class="t" transform="translate(901.00,158.30) scale(1,1.0)" text-anchor="end">2</text>
<text class="t" transform="translate(901.00,252.70) scale(1,1.0)" text-anchor="end">0</text>
<text transform="translate(867.18,349.50) scale(0.960,1)" style="font-size:30.0px;stroke-width:0.4px">−</text><text class="t" transform="translate(901.00,347.10) scale(1,1.0)" text-anchor="end">2</text>
<text transform="translate(867.18,443.90) scale(0.960,1)" style="font-size:30.0px;stroke-width:0.4px">−</text><text class="t" transform="translate(901.00,441.50) scale(1,1.0)" text-anchor="end">4</text>
<g clip-path="url(#c1_0)"><text class="t" transform="translate(972.10,523.50) scale(1.000,1.000)">1</text></g>
<text class="t" transform="translate(1117.92,523.5) scale(1,1.0)" text-anchor="middle">2</text>
<text class="t" transform="translate(1256.04,523.5) scale(1,1.0)" text-anchor="middle">3</text>
<text class="t" transform="translate(1394.16,523.5) scale(1,1.0)" text-anchor="middle">4</text>
<text class="t" transform="translate(1532.28,523.5) scale(1,1.0)" text-anchor="middle">5</text>
<text class="t" transform="translate(1670.40,523.5) scale(1,1.0)" text-anchor="middle">6</text>
<g><text class="x" x="1179.9" y="569.5" textLength="68.3" lengthAdjust="spacing">initial</text> <text class="x" x="1254.7" y="569.5" textLength="90.1" lengthAdjust="spacing">energy,</text> <text transform="translate(1349.6,569.4) skewX(-8) scale(1.2,1)" style="font-family:'DejaVu Sans','Liberation Sans',sans-serif;font-size:27.3px;stroke-width:0.9px">ℰ</text><text x="1369.3" y="569.6" style="font-size:18.8px">i</text> <text class="x" x="1382.4" y="569.5" textLength="73.2" lengthAdjust="spacing">(MeV)</text></g>
<text class="L" x="986.95" y="35.4">(b)</text>
<line x1="1521.4" y1="46.90" x2="1615.1" y2="46.90" stroke="#000000" stroke-width="3.85"/>
<g><text class="G" x="1629.10" y="54.10" style="stroke-width:0.6px">s</text><text transform="translate(1644.92,54.40) scale(0.890,0.833)" style="font-size:35.7px;stroke-width:1.3px">=</text><text class="G" transform="translate(1661.25,54.10) scale(0.92,0.99)" style="stroke-width:0.6px">3</text></g>
<line x1="1521.4" y1="93.75" x2="1615.1" y2="93.75" stroke="#ff0000" stroke-width="3.85"/>
<g><text class="G" x="1629.10" y="102.80" style="stroke-width:0.6px">s</text><text transform="translate(1644.92,103.10) scale(0.890,0.833)" style="font-size:35.7px;stroke-width:1.3px">=</text><text class="G" transform="translate(1660.66,102.80) scale(0.92,0.99)" style="stroke-width:0.6px">2</text></g>
<line x1="1521.4" y1="140.80" x2="1615.1" y2="140.80" stroke="#ff8000" stroke-width="3.85"/>
<g><text class="G" x="1629.10" y="148.05" style="stroke-width:0.6px">s</text><text transform="translate(1644.92,148.35) scale(0.890,0.833)" style="font-size:35.7px;stroke-width:1.3px">=</text><g clip-path="url(#c1_1)"><text class="G" transform="translate(1662.63,148.05) scale(0.920,0.990)" style="stroke-width:0.6px">1</text></g></g>
<line x1="1521.3" y1="347.10" x2="1609.4" y2="347.10" stroke="#000000" stroke-width="3.85" stroke-dasharray="13 5.72"/>
<g><text class="G" x="1630.30" y="354.95" style="stroke-width:0.6px">s</text><text transform="translate(1645.92,355.25) scale(0.890,0.833)" style="font-size:35.7px;stroke-width:1.3px">=</text><text transform="translate(1662.52,357.35) scale(0.915,1)" style="font-size:35.7px;stroke-width:0.7px">−</text><text class="G" transform="translate(1679.55,354.95) scale(0.92,0.99)" style="stroke-width:0.6px">3</text></g>
<line x1="1521.3" y1="394.30" x2="1609.4" y2="394.30" stroke="#ff0000" stroke-width="3.85" stroke-dasharray="13 5.72"/>
<g><text class="G" x="1630.30" y="403.20" style="stroke-width:0.6px">s</text><text transform="translate(1645.92,403.50) scale(0.890,0.833)" style="font-size:35.7px;stroke-width:1.3px">=</text><text transform="translate(1662.52,405.60) scale(0.915,1)" style="font-size:35.7px;stroke-width:0.7px">−</text><text class="G" transform="translate(1678.76,403.20) scale(0.92,0.99)" style="stroke-width:0.6px">2</text></g>
<line x1="1521.3" y1="441.10" x2="1609.4" y2="441.10" stroke="#ff8000" stroke-width="3.85" stroke-dasharray="13 5.72"/>
<g><text class="G" x="1630.30" y="451.05" style="stroke-width:0.6px">s</text><text transform="translate(1645.92,451.35) scale(0.890,0.833)" style="font-size:35.7px;stroke-width:1.3px">=</text><text transform="translate(1662.52,453.45) scale(0.915,1)" style="font-size:35.7px;stroke-width:0.7px">−</text><g clip-path="url(#c1_2)"><text class="G" transform="translate(1681.83,451.05) scale(0.920,0.990)" style="stroke-width:0.6px">1</text></g></g>
</g>
</svg></body></html>
